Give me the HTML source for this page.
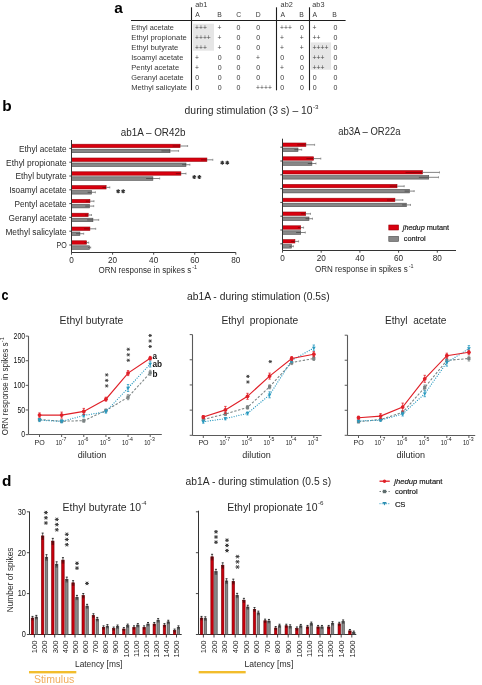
<!DOCTYPE html>
<html><head><meta charset="utf-8"><style>
html,body{margin:0;padding:0;background:#fff;}
svg{display:block;font-family:"Liberation Sans", sans-serif;will-change:transform;}
</style></head><body>
<svg width="482" height="685" viewBox="0 0 482 685">
<rect width="482" height="685" fill="#fff"/>
<text x="114.3" y="13.1" font-size="15.4" font-weight="bold" fill="#000">a</text>
<text x="2.2" y="111.2" font-size="15.4" font-weight="bold" fill="#000">b</text>
<text x="1.6" y="299.8" font-size="15.4" font-weight="bold" textLength="7.0" lengthAdjust="spacingAndGlyphs" fill="#000">c</text>
<text x="2.1" y="485.9" font-size="15.4" font-weight="bold" fill="#000">d</text>
<rect x="193.00" y="23.70" width="21.00" height="27.00" fill="#e6e6e6"/>
<rect x="310.80" y="42.40" width="20.30" height="27.40" fill="#e6e6e6"/>
<line x1="131" y1="20.5" x2="345.6" y2="20.5" stroke="#1e1e1e" stroke-width="1.1"/>
<line x1="191.5" y1="7.3" x2="191.5" y2="90.3" stroke="#1e1e1e" stroke-width="1.1"/>
<line x1="276.5" y1="7.3" x2="276.5" y2="90.3" stroke="#1e1e1e" stroke-width="1.1"/>
<line x1="309.5" y1="7.3" x2="309.5" y2="90.3" stroke="#1e1e1e" stroke-width="1.1"/>
<text x="195.2" y="6.7" font-size="7.0" textLength="12.2" lengthAdjust="spacingAndGlyphs" fill="#383838">ab1</text>
<text x="280.6" y="6.7" font-size="7.0" textLength="12.2" lengthAdjust="spacingAndGlyphs" fill="#383838">ab2</text>
<text x="312.3" y="6.7" font-size="7.0" textLength="12.2" lengthAdjust="spacingAndGlyphs" fill="#383838">ab3</text>
<text x="195.3" y="17.1" font-size="6.8" fill="#383838">A</text>
<text x="217.3" y="17.1" font-size="6.8" fill="#383838">B</text>
<text x="236.3" y="17.1" font-size="6.8" fill="#383838">C</text>
<text x="255.8" y="17.1" font-size="6.8" fill="#383838">D</text>
<text x="280.6" y="17.1" font-size="6.8" fill="#383838">A</text>
<text x="299.3" y="17.1" font-size="6.8" fill="#383838">B</text>
<text x="312.6" y="17.1" font-size="6.8" fill="#383838">A</text>
<text x="332.3" y="17.1" font-size="6.8" fill="#383838">B</text>
<text x="131.3" y="29.5" font-size="7.3" textLength="42.6" lengthAdjust="spacingAndGlyphs" fill="#383838">Ethyl acetate</text>
<text x="195.0" y="29.8" font-size="7.0" textLength="11.850000000000001" lengthAdjust="spacingAndGlyphs" fill="#444">+++</text>
<text x="217.60000000000002" y="29.8" font-size="7.0" textLength="3.95" lengthAdjust="spacingAndGlyphs" fill="#444">+</text>
<text x="236.6" y="29.5" font-size="7.4" textLength="3.9" lengthAdjust="spacingAndGlyphs" fill="#383838">0</text>
<text x="256.3" y="29.5" font-size="7.4" textLength="3.9" lengthAdjust="spacingAndGlyphs" fill="#383838">0</text>
<text x="280.0" y="29.8" font-size="7.0" textLength="11.850000000000001" lengthAdjust="spacingAndGlyphs" fill="#444">+++</text>
<text x="300.0" y="29.5" font-size="7.4" textLength="3.9" lengthAdjust="spacingAndGlyphs" fill="#383838">0</text>
<text x="312.6" y="29.8" font-size="7.0" textLength="3.95" lengthAdjust="spacingAndGlyphs" fill="#444">+</text>
<text x="333.6" y="29.5" font-size="7.4" textLength="3.9" lengthAdjust="spacingAndGlyphs" fill="#383838">0</text>
<text x="131.3" y="39.5" font-size="7.3" textLength="55.5" lengthAdjust="spacingAndGlyphs" fill="#383838">Ethyl propionate</text>
<text x="195.0" y="39.8" font-size="7.0" textLength="15.8" lengthAdjust="spacingAndGlyphs" fill="#444">++++</text>
<text x="217.60000000000002" y="39.8" font-size="7.0" textLength="3.95" lengthAdjust="spacingAndGlyphs" fill="#444">+</text>
<text x="236.6" y="39.5" font-size="7.4" textLength="3.9" lengthAdjust="spacingAndGlyphs" fill="#383838">0</text>
<text x="256.3" y="39.5" font-size="7.4" textLength="3.9" lengthAdjust="spacingAndGlyphs" fill="#383838">0</text>
<text x="280.0" y="39.8" font-size="7.0" textLength="3.95" lengthAdjust="spacingAndGlyphs" fill="#444">+</text>
<text x="299.8" y="39.8" font-size="7.0" textLength="3.95" lengthAdjust="spacingAndGlyphs" fill="#444">+</text>
<text x="312.6" y="39.8" font-size="7.0" textLength="7.9" lengthAdjust="spacingAndGlyphs" fill="#444">++</text>
<text x="333.6" y="39.5" font-size="7.4" textLength="3.9" lengthAdjust="spacingAndGlyphs" fill="#383838">0</text>
<text x="131.3" y="49.5" font-size="7.3" textLength="47.1" lengthAdjust="spacingAndGlyphs" fill="#383838">Ethyl butyrate</text>
<text x="195.0" y="49.8" font-size="7.0" textLength="11.850000000000001" lengthAdjust="spacingAndGlyphs" fill="#444">+++</text>
<text x="217.60000000000002" y="49.8" font-size="7.0" textLength="3.95" lengthAdjust="spacingAndGlyphs" fill="#444">+</text>
<text x="236.6" y="49.5" font-size="7.4" textLength="3.9" lengthAdjust="spacingAndGlyphs" fill="#383838">0</text>
<text x="256.3" y="49.5" font-size="7.4" textLength="3.9" lengthAdjust="spacingAndGlyphs" fill="#383838">0</text>
<text x="280.0" y="49.8" font-size="7.0" textLength="3.95" lengthAdjust="spacingAndGlyphs" fill="#444">+</text>
<text x="299.8" y="49.8" font-size="7.0" textLength="3.95" lengthAdjust="spacingAndGlyphs" fill="#444">+</text>
<text x="312.6" y="49.8" font-size="7.0" textLength="15.8" lengthAdjust="spacingAndGlyphs" fill="#444">++++</text>
<text x="333.6" y="49.5" font-size="7.4" textLength="3.9" lengthAdjust="spacingAndGlyphs" fill="#383838">0</text>
<text x="131.3" y="59.5" font-size="7.3" textLength="52.0" lengthAdjust="spacingAndGlyphs" fill="#383838">Isoamyl acetate</text>
<text x="195.0" y="59.8" font-size="7.0" textLength="3.95" lengthAdjust="spacingAndGlyphs" fill="#444">+</text>
<text x="217.8" y="59.5" font-size="7.4" textLength="3.9" lengthAdjust="spacingAndGlyphs" fill="#383838">0</text>
<text x="236.6" y="59.5" font-size="7.4" textLength="3.9" lengthAdjust="spacingAndGlyphs" fill="#383838">0</text>
<text x="256.1" y="59.8" font-size="7.0" textLength="3.95" lengthAdjust="spacingAndGlyphs" fill="#444">+</text>
<text x="280.2" y="59.5" font-size="7.4" textLength="3.9" lengthAdjust="spacingAndGlyphs" fill="#383838">0</text>
<text x="300.0" y="59.5" font-size="7.4" textLength="3.9" lengthAdjust="spacingAndGlyphs" fill="#383838">0</text>
<text x="312.6" y="59.8" font-size="7.0" textLength="11.850000000000001" lengthAdjust="spacingAndGlyphs" fill="#444">+++</text>
<text x="333.6" y="59.5" font-size="7.4" textLength="3.9" lengthAdjust="spacingAndGlyphs" fill="#383838">0</text>
<text x="131.3" y="69.5" font-size="7.3" textLength="47.8" lengthAdjust="spacingAndGlyphs" fill="#383838">Pentyl acetate</text>
<text x="195.0" y="69.8" font-size="7.0" textLength="3.95" lengthAdjust="spacingAndGlyphs" fill="#444">+</text>
<text x="217.8" y="69.5" font-size="7.4" textLength="3.9" lengthAdjust="spacingAndGlyphs" fill="#383838">0</text>
<text x="236.6" y="69.5" font-size="7.4" textLength="3.9" lengthAdjust="spacingAndGlyphs" fill="#383838">0</text>
<text x="256.3" y="69.5" font-size="7.4" textLength="3.9" lengthAdjust="spacingAndGlyphs" fill="#383838">0</text>
<text x="280.0" y="69.8" font-size="7.0" textLength="3.95" lengthAdjust="spacingAndGlyphs" fill="#444">+</text>
<text x="300.0" y="69.5" font-size="7.4" textLength="3.9" lengthAdjust="spacingAndGlyphs" fill="#383838">0</text>
<text x="312.6" y="69.8" font-size="7.0" textLength="11.850000000000001" lengthAdjust="spacingAndGlyphs" fill="#444">+++</text>
<text x="333.6" y="69.5" font-size="7.4" textLength="3.9" lengthAdjust="spacingAndGlyphs" fill="#383838">0</text>
<text x="131.3" y="79.5" font-size="7.3" textLength="52.4" lengthAdjust="spacingAndGlyphs" fill="#383838">Geranyl acetate</text>
<text x="195.2" y="79.5" font-size="7.4" textLength="3.9" lengthAdjust="spacingAndGlyphs" fill="#383838">0</text>
<text x="217.8" y="79.5" font-size="7.4" textLength="3.9" lengthAdjust="spacingAndGlyphs" fill="#383838">0</text>
<text x="236.6" y="79.5" font-size="7.4" textLength="3.9" lengthAdjust="spacingAndGlyphs" fill="#383838">0</text>
<text x="256.3" y="79.5" font-size="7.4" textLength="3.9" lengthAdjust="spacingAndGlyphs" fill="#383838">0</text>
<text x="280.2" y="79.5" font-size="7.4" textLength="3.9" lengthAdjust="spacingAndGlyphs" fill="#383838">0</text>
<text x="300.0" y="79.5" font-size="7.4" textLength="3.9" lengthAdjust="spacingAndGlyphs" fill="#383838">0</text>
<text x="312.8" y="79.5" font-size="7.4" textLength="3.9" lengthAdjust="spacingAndGlyphs" fill="#383838">0</text>
<text x="333.6" y="79.5" font-size="7.4" textLength="3.9" lengthAdjust="spacingAndGlyphs" fill="#383838">0</text>
<text x="131.3" y="89.5" font-size="7.3" textLength="55.7" lengthAdjust="spacingAndGlyphs" fill="#383838">Methyl salicylate</text>
<text x="195.2" y="89.5" font-size="7.4" textLength="3.9" lengthAdjust="spacingAndGlyphs" fill="#383838">0</text>
<text x="217.8" y="89.5" font-size="7.4" textLength="3.9" lengthAdjust="spacingAndGlyphs" fill="#383838">0</text>
<text x="236.6" y="89.5" font-size="7.4" textLength="3.9" lengthAdjust="spacingAndGlyphs" fill="#383838">0</text>
<text x="256.1" y="89.8" font-size="7.0" textLength="15.8" lengthAdjust="spacingAndGlyphs" fill="#444">++++</text>
<text x="280.2" y="89.5" font-size="7.4" textLength="3.9" lengthAdjust="spacingAndGlyphs" fill="#383838">0</text>
<text x="300.0" y="89.5" font-size="7.4" textLength="3.9" lengthAdjust="spacingAndGlyphs" fill="#383838">0</text>
<text x="312.8" y="89.5" font-size="7.4" textLength="3.9" lengthAdjust="spacingAndGlyphs" fill="#383838">0</text>
<text x="333.6" y="89.5" font-size="7.4" textLength="3.9" lengthAdjust="spacingAndGlyphs" fill="#383838">0</text>
<text x="184.6" y="113.9" font-size="10.5" textLength="128.0" lengthAdjust="spacingAndGlyphs" fill="#2a2a2a">during stimulation (3 s) – 10</text>
<text x="312.9" y="109.0" font-size="5.6" textLength="5.6" lengthAdjust="spacingAndGlyphs" fill="#2a2a2a">-3</text>
<rect x="71.50" y="144.20" width="108.60" height="3.40" fill="#d9000f" stroke="#9a0008" stroke-width="0.6"/>
<rect x="71.50" y="149.20" width="98.50" height="3.50" fill="#878787" stroke="#4a4a4a" stroke-width="0.6"/>
<line x1="172.6" y1="146.0" x2="180.1" y2="146.0" stroke="#300" stroke-width="1.0" opacity="0.45"/>
<line x1="180.1" y1="146.0" x2="187.6" y2="146.0" stroke="#777" stroke-width="0.9"/>
<line x1="187.6" y1="145.0" x2="187.6" y2="147.0" stroke="#777" stroke-width="0.7"/>
<line x1="161.4" y1="150.9" x2="170.0" y2="150.9" stroke="#111" stroke-width="1.0" opacity="0.45"/>
<line x1="170.0" y1="150.9" x2="178.6" y2="150.9" stroke="#777" stroke-width="0.9"/>
<line x1="178.6" y1="149.9" x2="178.6" y2="151.9" stroke="#777" stroke-width="0.7"/>
<line x1="69.3" y1="148.4" x2="71.5" y2="148.4" stroke="#333" stroke-width="0.9"/>
<rect x="71.50" y="158.00" width="135.40" height="3.40" fill="#d9000f" stroke="#9a0008" stroke-width="0.6"/>
<rect x="71.50" y="163.00" width="114.50" height="3.50" fill="#878787" stroke="#4a4a4a" stroke-width="0.6"/>
<line x1="201.0" y1="159.8" x2="206.9" y2="159.8" stroke="#300" stroke-width="1.0" opacity="0.45"/>
<line x1="206.9" y1="159.8" x2="212.8" y2="159.8" stroke="#777" stroke-width="0.9"/>
<line x1="212.8" y1="158.8" x2="212.8" y2="160.8" stroke="#777" stroke-width="0.7"/>
<line x1="182.1" y1="164.70000000000002" x2="186.0" y2="164.70000000000002" stroke="#111" stroke-width="1.0" opacity="0.45"/>
<line x1="186.0" y1="164.70000000000002" x2="189.9" y2="164.70000000000002" stroke="#777" stroke-width="0.9"/>
<line x1="189.9" y1="163.70000000000002" x2="189.9" y2="165.70000000000002" stroke="#777" stroke-width="0.7"/>
<line x1="69.3" y1="162.20000000000002" x2="71.5" y2="162.20000000000002" stroke="#333" stroke-width="0.9"/>
<rect x="71.50" y="171.80" width="109.40" height="3.40" fill="#d9000f" stroke="#9a0008" stroke-width="0.6"/>
<rect x="71.50" y="176.80" width="81.40" height="3.50" fill="#878787" stroke="#4a4a4a" stroke-width="0.6"/>
<line x1="175.8" y1="173.6" x2="180.9" y2="173.6" stroke="#300" stroke-width="1.0" opacity="0.45"/>
<line x1="180.9" y1="173.6" x2="186.0" y2="173.6" stroke="#777" stroke-width="0.9"/>
<line x1="186.0" y1="172.6" x2="186.0" y2="174.6" stroke="#777" stroke-width="0.7"/>
<line x1="146.10000000000002" y1="178.5" x2="152.9" y2="178.5" stroke="#111" stroke-width="1.0" opacity="0.45"/>
<line x1="152.9" y1="178.5" x2="159.7" y2="178.5" stroke="#777" stroke-width="0.9"/>
<line x1="159.7" y1="177.5" x2="159.7" y2="179.5" stroke="#777" stroke-width="0.7"/>
<line x1="69.3" y1="176.0" x2="71.5" y2="176.0" stroke="#333" stroke-width="0.9"/>
<rect x="71.50" y="185.60" width="34.60" height="3.40" fill="#d9000f" stroke="#9a0008" stroke-width="0.6"/>
<rect x="71.50" y="190.60" width="20.00" height="3.50" fill="#878787" stroke="#4a4a4a" stroke-width="0.6"/>
<line x1="102.39999999999999" y1="187.4" x2="106.1" y2="187.4" stroke="#300" stroke-width="1.0" opacity="0.45"/>
<line x1="106.1" y1="187.4" x2="109.8" y2="187.4" stroke="#777" stroke-width="0.9"/>
<line x1="109.8" y1="186.4" x2="109.8" y2="188.4" stroke="#777" stroke-width="0.7"/>
<line x1="87.6" y1="192.3" x2="91.5" y2="192.3" stroke="#111" stroke-width="1.0" opacity="0.45"/>
<line x1="91.5" y1="192.3" x2="95.4" y2="192.3" stroke="#777" stroke-width="0.9"/>
<line x1="95.4" y1="191.3" x2="95.4" y2="193.3" stroke="#777" stroke-width="0.7"/>
<line x1="69.3" y1="189.8" x2="71.5" y2="189.8" stroke="#333" stroke-width="0.9"/>
<rect x="71.50" y="199.40" width="18.40" height="3.40" fill="#d9000f" stroke="#9a0008" stroke-width="0.6"/>
<rect x="71.50" y="204.40" width="18.00" height="3.50" fill="#878787" stroke="#4a4a4a" stroke-width="0.6"/>
<line x1="85.80000000000001" y1="201.20000000000002" x2="89.9" y2="201.20000000000002" stroke="#300" stroke-width="1.0" opacity="0.45"/>
<line x1="89.9" y1="201.20000000000002" x2="94.0" y2="201.20000000000002" stroke="#777" stroke-width="0.9"/>
<line x1="94.0" y1="200.20000000000002" x2="94.0" y2="202.20000000000002" stroke="#777" stroke-width="0.7"/>
<line x1="85.3" y1="206.10000000000002" x2="89.5" y2="206.10000000000002" stroke="#111" stroke-width="1.0" opacity="0.45"/>
<line x1="89.5" y1="206.10000000000002" x2="93.7" y2="206.10000000000002" stroke="#777" stroke-width="0.9"/>
<line x1="93.7" y1="205.10000000000002" x2="93.7" y2="207.10000000000002" stroke="#777" stroke-width="0.7"/>
<line x1="69.3" y1="203.60000000000002" x2="71.5" y2="203.60000000000002" stroke="#333" stroke-width="0.9"/>
<rect x="71.50" y="213.20" width="16.70" height="3.40" fill="#d9000f" stroke="#9a0008" stroke-width="0.6"/>
<rect x="71.50" y="218.20" width="21.40" height="3.50" fill="#878787" stroke="#4a4a4a" stroke-width="0.6"/>
<line x1="84.9" y1="215.0" x2="88.2" y2="215.0" stroke="#300" stroke-width="1.0" opacity="0.45"/>
<line x1="88.2" y1="215.0" x2="91.5" y2="215.0" stroke="#777" stroke-width="0.9"/>
<line x1="91.5" y1="214.0" x2="91.5" y2="216.0" stroke="#777" stroke-width="0.7"/>
<line x1="87.10000000000001" y1="219.9" x2="92.9" y2="219.9" stroke="#111" stroke-width="1.0" opacity="0.45"/>
<line x1="92.9" y1="219.9" x2="98.7" y2="219.9" stroke="#777" stroke-width="0.9"/>
<line x1="98.7" y1="218.9" x2="98.7" y2="220.9" stroke="#777" stroke-width="0.7"/>
<line x1="69.3" y1="217.4" x2="71.5" y2="217.4" stroke="#333" stroke-width="0.9"/>
<rect x="71.50" y="227.00" width="18.40" height="3.40" fill="#d9000f" stroke="#9a0008" stroke-width="0.6"/>
<rect x="71.50" y="232.00" width="8.40" height="3.50" fill="#878787" stroke="#4a4a4a" stroke-width="0.6"/>
<line x1="84.10000000000001" y1="228.8" x2="89.9" y2="228.8" stroke="#300" stroke-width="1.0" opacity="0.45"/>
<line x1="89.9" y1="228.8" x2="95.7" y2="228.8" stroke="#777" stroke-width="0.9"/>
<line x1="95.7" y1="227.8" x2="95.7" y2="229.8" stroke="#777" stroke-width="0.7"/>
<line x1="76.10000000000001" y1="233.70000000000002" x2="79.9" y2="233.70000000000002" stroke="#111" stroke-width="1.0" opacity="0.45"/>
<line x1="79.9" y1="233.70000000000002" x2="83.7" y2="233.70000000000002" stroke="#777" stroke-width="0.9"/>
<line x1="83.7" y1="232.70000000000002" x2="83.7" y2="234.70000000000002" stroke="#777" stroke-width="0.7"/>
<line x1="69.3" y1="231.20000000000002" x2="71.5" y2="231.20000000000002" stroke="#333" stroke-width="0.9"/>
<rect x="71.50" y="240.80" width="15.10" height="3.40" fill="#d9000f" stroke="#9a0008" stroke-width="0.6"/>
<rect x="71.50" y="245.80" width="18.00" height="3.50" fill="#878787" stroke="#4a4a4a" stroke-width="0.6"/>
<line x1="84.49999999999999" y1="242.6" x2="86.6" y2="242.6" stroke="#300" stroke-width="1.0" opacity="0.45"/>
<line x1="86.6" y1="242.6" x2="88.7" y2="242.6" stroke="#777" stroke-width="0.9"/>
<line x1="88.7" y1="241.6" x2="88.7" y2="243.6" stroke="#777" stroke-width="0.7"/>
<line x1="88.3" y1="247.5" x2="89.5" y2="247.5" stroke="#111" stroke-width="1.0" opacity="0.45"/>
<line x1="89.5" y1="247.5" x2="90.7" y2="247.5" stroke="#777" stroke-width="0.9"/>
<line x1="90.7" y1="246.5" x2="90.7" y2="248.5" stroke="#777" stroke-width="0.7"/>
<line x1="69.3" y1="245.0" x2="71.5" y2="245.0" stroke="#333" stroke-width="0.9"/>
<line x1="71.5" y1="140" x2="71.5" y2="252.5" stroke="#333" stroke-width="1"/>
<line x1="71.5" y1="252.5" x2="235.8" y2="252.5" stroke="#333" stroke-width="1"/>
<line x1="71.5" y1="252.5" x2="71.5" y2="254.7" stroke="#333" stroke-width="0.9"/>
<text x="71.5" y="262.8" font-size="8.2" text-anchor="middle" fill="#2a2a2a">0</text>
<line x1="112.58" y1="252.5" x2="112.58" y2="254.7" stroke="#333" stroke-width="0.9"/>
<text x="112.58" y="262.8" font-size="8.2" text-anchor="middle" fill="#2a2a2a">20</text>
<line x1="153.66" y1="252.5" x2="153.66" y2="254.7" stroke="#333" stroke-width="0.9"/>
<text x="153.66" y="262.8" font-size="8.2" text-anchor="middle" fill="#2a2a2a">40</text>
<line x1="194.74" y1="252.5" x2="194.74" y2="254.7" stroke="#333" stroke-width="0.9"/>
<text x="194.74" y="262.8" font-size="8.2" text-anchor="middle" fill="#2a2a2a">60</text>
<line x1="235.82" y1="252.5" x2="235.82" y2="254.7" stroke="#333" stroke-width="0.9"/>
<text x="235.82" y="262.8" font-size="8.2" text-anchor="middle" fill="#2a2a2a">80</text>
<text x="120.7" y="135.6" font-size="10.5" textLength="64.8" lengthAdjust="spacingAndGlyphs" fill="#2a2a2a">ab1A – OR42b</text>
<text x="66.7" y="151.8" font-size="8.4" text-anchor="end" textLength="47.7" lengthAdjust="spacingAndGlyphs" fill="#2a2a2a">Ethyl acetate</text>
<text x="66.7" y="165.60000000000002" font-size="8.4" text-anchor="end" textLength="60.6" lengthAdjust="spacingAndGlyphs" fill="#2a2a2a">Ethyl propionate</text>
<text x="66.7" y="179.4" font-size="8.4" text-anchor="end" textLength="51.3" lengthAdjust="spacingAndGlyphs" fill="#2a2a2a">Ethyl butyrate</text>
<text x="66.7" y="193.20000000000002" font-size="8.4" text-anchor="end" textLength="57.5" lengthAdjust="spacingAndGlyphs" fill="#2a2a2a">Isoamyl acetate</text>
<text x="66.7" y="207.0" font-size="8.4" text-anchor="end" textLength="52.3" lengthAdjust="spacingAndGlyphs" fill="#2a2a2a">Pentyl acetate</text>
<text x="66.7" y="220.8" font-size="8.4" text-anchor="end" textLength="58.2" lengthAdjust="spacingAndGlyphs" fill="#2a2a2a">Geranyl acetate</text>
<text x="66.7" y="234.60000000000002" font-size="8.4" text-anchor="end" textLength="61.3" lengthAdjust="spacingAndGlyphs" fill="#2a2a2a">Methyl salicylate</text>
<text x="66.7" y="248.40000000000003" font-size="8.4" text-anchor="end" textLength="10.3" lengthAdjust="spacingAndGlyphs" fill="#2a2a2a">PO</text>
<text x="98.4" y="272.9" font-size="8.5" textLength="92.8" lengthAdjust="spacingAndGlyphs" fill="#2a2a2a">ORN response in spikes s</text>
<text x="192.2" y="269.0" font-size="5.2" textLength="4.8" lengthAdjust="spacingAndGlyphs" fill="#2a2a2a">-1</text>
<path d="M222.30,160.80L222.30,164.80M220.57,161.80L224.03,163.80M220.57,163.80L224.03,161.80" stroke="#333" stroke-width="1.2" fill="none"/>
<path d="M227.30,160.80L227.30,164.80M225.57,161.80L229.03,163.80M225.57,163.80L229.03,161.80" stroke="#333" stroke-width="1.2" fill="none"/>
<path d="M194.30,175.00L194.30,179.00M192.57,176.00L196.03,178.00M192.57,178.00L196.03,176.00" stroke="#333" stroke-width="1.2" fill="none"/>
<path d="M199.40,175.00L199.40,179.00M197.67,176.00L201.13,178.00M197.67,178.00L201.13,176.00" stroke="#333" stroke-width="1.2" fill="none"/>
<path d="M118.20,189.30L118.20,193.30M116.47,190.30L119.93,192.30M116.47,192.30L119.93,190.30" stroke="#333" stroke-width="1.2" fill="none"/>
<path d="M123.20,189.30L123.20,193.30M121.47,190.30L124.93,192.30M121.47,192.30L124.93,190.30" stroke="#333" stroke-width="1.2" fill="none"/>
<rect x="282.50" y="143.00" width="23.40" height="3.40" fill="#d9000f" stroke="#9a0008" stroke-width="0.6"/>
<rect x="282.50" y="148.00" width="15.50" height="3.50" fill="#878787" stroke="#4a4a4a" stroke-width="0.6"/>
<line x1="297.19999999999993" y1="144.79999999999998" x2="305.9" y2="144.79999999999998" stroke="#300" stroke-width="1.0" opacity="0.45"/>
<line x1="305.9" y1="144.79999999999998" x2="314.6" y2="144.79999999999998" stroke="#777" stroke-width="0.9"/>
<line x1="314.6" y1="143.79999999999998" x2="314.6" y2="145.79999999999998" stroke="#777" stroke-width="0.7"/>
<line x1="294.3" y1="149.7" x2="298.0" y2="149.7" stroke="#111" stroke-width="1.0" opacity="0.45"/>
<line x1="298.0" y1="149.7" x2="301.7" y2="149.7" stroke="#777" stroke-width="0.9"/>
<line x1="301.7" y1="148.7" x2="301.7" y2="150.7" stroke="#777" stroke-width="0.7"/>
<line x1="280.3" y1="147.2" x2="282.5" y2="147.2" stroke="#333" stroke-width="0.9"/>
<rect x="282.50" y="156.80" width="31.10" height="3.40" fill="#d9000f" stroke="#9a0008" stroke-width="0.6"/>
<rect x="282.50" y="161.80" width="29.40" height="3.50" fill="#878787" stroke="#4a4a4a" stroke-width="0.6"/>
<line x1="306.40000000000003" y1="158.6" x2="313.6" y2="158.6" stroke="#300" stroke-width="1.0" opacity="0.45"/>
<line x1="313.6" y1="158.6" x2="320.8" y2="158.6" stroke="#777" stroke-width="0.9"/>
<line x1="320.8" y1="157.6" x2="320.8" y2="159.6" stroke="#777" stroke-width="0.7"/>
<line x1="307.79999999999995" y1="163.5" x2="311.9" y2="163.5" stroke="#111" stroke-width="1.0" opacity="0.45"/>
<line x1="311.9" y1="163.5" x2="316.0" y2="163.5" stroke="#777" stroke-width="0.9"/>
<line x1="316.0" y1="162.5" x2="316.0" y2="164.5" stroke="#777" stroke-width="0.7"/>
<line x1="280.3" y1="161.0" x2="282.5" y2="161.0" stroke="#333" stroke-width="0.9"/>
<rect x="282.50" y="170.60" width="140.00" height="3.40" fill="#d9000f" stroke="#9a0008" stroke-width="0.6"/>
<rect x="282.50" y="175.60" width="146.20" height="3.50" fill="#878787" stroke="#4a4a4a" stroke-width="0.6"/>
<line x1="405.5" y1="172.39999999999998" x2="422.5" y2="172.39999999999998" stroke="#300" stroke-width="1.0" opacity="0.45"/>
<line x1="422.5" y1="172.39999999999998" x2="439.5" y2="172.39999999999998" stroke="#777" stroke-width="0.9"/>
<line x1="439.5" y1="171.39999999999998" x2="439.5" y2="173.39999999999998" stroke="#777" stroke-width="0.7"/>
<line x1="418.9" y1="177.29999999999998" x2="428.7" y2="177.29999999999998" stroke="#111" stroke-width="1.0" opacity="0.45"/>
<line x1="428.7" y1="177.29999999999998" x2="438.5" y2="177.29999999999998" stroke="#777" stroke-width="0.9"/>
<line x1="438.5" y1="176.29999999999998" x2="438.5" y2="178.29999999999998" stroke="#777" stroke-width="0.7"/>
<line x1="280.3" y1="174.79999999999998" x2="282.5" y2="174.79999999999998" stroke="#333" stroke-width="0.9"/>
<rect x="282.50" y="184.40" width="114.50" height="3.40" fill="#d9000f" stroke="#9a0008" stroke-width="0.6"/>
<rect x="282.50" y="189.40" width="126.90" height="3.50" fill="#878787" stroke="#4a4a4a" stroke-width="0.6"/>
<line x1="389.8" y1="186.2" x2="397.0" y2="186.2" stroke="#300" stroke-width="1.0" opacity="0.45"/>
<line x1="397.0" y1="186.2" x2="404.2" y2="186.2" stroke="#777" stroke-width="0.9"/>
<line x1="404.2" y1="185.2" x2="404.2" y2="187.2" stroke="#777" stroke-width="0.7"/>
<line x1="404.59999999999997" y1="191.1" x2="409.4" y2="191.1" stroke="#111" stroke-width="1.0" opacity="0.45"/>
<line x1="409.4" y1="191.1" x2="414.2" y2="191.1" stroke="#777" stroke-width="0.9"/>
<line x1="414.2" y1="190.1" x2="414.2" y2="192.1" stroke="#777" stroke-width="0.7"/>
<line x1="280.3" y1="188.6" x2="282.5" y2="188.6" stroke="#333" stroke-width="0.9"/>
<rect x="282.50" y="198.20" width="112.40" height="3.40" fill="#d9000f" stroke="#9a0008" stroke-width="0.6"/>
<rect x="282.50" y="203.20" width="123.80" height="3.50" fill="#878787" stroke="#4a4a4a" stroke-width="0.6"/>
<line x1="386.99999999999994" y1="199.99999999999997" x2="394.9" y2="199.99999999999997" stroke="#300" stroke-width="1.0" opacity="0.45"/>
<line x1="394.9" y1="199.99999999999997" x2="402.8" y2="199.99999999999997" stroke="#777" stroke-width="0.9"/>
<line x1="402.8" y1="198.99999999999997" x2="402.8" y2="200.99999999999997" stroke="#777" stroke-width="0.7"/>
<line x1="402.1" y1="204.89999999999998" x2="406.3" y2="204.89999999999998" stroke="#111" stroke-width="1.0" opacity="0.45"/>
<line x1="406.3" y1="204.89999999999998" x2="410.5" y2="204.89999999999998" stroke="#777" stroke-width="0.9"/>
<line x1="410.5" y1="203.89999999999998" x2="410.5" y2="205.89999999999998" stroke="#777" stroke-width="0.7"/>
<line x1="280.3" y1="202.39999999999998" x2="282.5" y2="202.39999999999998" stroke="#333" stroke-width="0.9"/>
<rect x="282.50" y="212.00" width="23.20" height="3.40" fill="#d9000f" stroke="#9a0008" stroke-width="0.6"/>
<rect x="282.50" y="217.00" width="26.50" height="3.50" fill="#878787" stroke="#4a4a4a" stroke-width="0.6"/>
<line x1="300.9" y1="213.79999999999998" x2="305.7" y2="213.79999999999998" stroke="#300" stroke-width="1.0" opacity="0.45"/>
<line x1="305.7" y1="213.79999999999998" x2="310.5" y2="213.79999999999998" stroke="#777" stroke-width="0.9"/>
<line x1="310.5" y1="212.79999999999998" x2="310.5" y2="214.79999999999998" stroke="#777" stroke-width="0.7"/>
<line x1="305.5" y1="218.7" x2="309.0" y2="218.7" stroke="#111" stroke-width="1.0" opacity="0.45"/>
<line x1="309.0" y1="218.7" x2="312.5" y2="218.7" stroke="#777" stroke-width="0.9"/>
<line x1="312.5" y1="217.7" x2="312.5" y2="219.7" stroke="#777" stroke-width="0.7"/>
<line x1="280.3" y1="216.2" x2="282.5" y2="216.2" stroke="#333" stroke-width="0.9"/>
<rect x="282.50" y="225.80" width="18.20" height="3.40" fill="#d9000f" stroke="#9a0008" stroke-width="0.6"/>
<rect x="282.50" y="230.80" width="18.20" height="3.50" fill="#878787" stroke="#4a4a4a" stroke-width="0.6"/>
<line x1="297.79999999999995" y1="227.6" x2="300.7" y2="227.6" stroke="#300" stroke-width="1.0" opacity="0.45"/>
<line x1="300.7" y1="227.6" x2="303.6" y2="227.6" stroke="#777" stroke-width="0.9"/>
<line x1="303.6" y1="226.6" x2="303.6" y2="228.6" stroke="#777" stroke-width="0.7"/>
<line x1="296.09999999999997" y1="232.5" x2="300.7" y2="232.5" stroke="#111" stroke-width="1.0" opacity="0.45"/>
<line x1="300.7" y1="232.5" x2="305.3" y2="232.5" stroke="#777" stroke-width="0.9"/>
<line x1="305.3" y1="231.5" x2="305.3" y2="233.5" stroke="#777" stroke-width="0.7"/>
<line x1="280.3" y1="230.0" x2="282.5" y2="230.0" stroke="#333" stroke-width="0.9"/>
<rect x="282.50" y="239.60" width="12.40" height="3.40" fill="#d9000f" stroke="#9a0008" stroke-width="0.6"/>
<rect x="282.50" y="244.60" width="8.90" height="3.50" fill="#878787" stroke="#4a4a4a" stroke-width="0.6"/>
<line x1="291.19999999999993" y1="241.4" x2="294.9" y2="241.4" stroke="#300" stroke-width="1.0" opacity="0.45"/>
<line x1="294.9" y1="241.4" x2="298.6" y2="241.4" stroke="#777" stroke-width="0.9"/>
<line x1="298.6" y1="240.4" x2="298.6" y2="242.4" stroke="#777" stroke-width="0.7"/>
<line x1="289.4" y1="246.3" x2="291.4" y2="246.3" stroke="#111" stroke-width="1.0" opacity="0.45"/>
<line x1="291.4" y1="246.3" x2="293.4" y2="246.3" stroke="#777" stroke-width="0.9"/>
<line x1="293.4" y1="245.3" x2="293.4" y2="247.3" stroke="#777" stroke-width="0.7"/>
<line x1="280.3" y1="243.8" x2="282.5" y2="243.8" stroke="#333" stroke-width="0.9"/>
<line x1="282.5" y1="138.7" x2="282.5" y2="250.5" stroke="#333" stroke-width="1"/>
<line x1="282.5" y1="250.5" x2="456.0" y2="250.5" stroke="#333" stroke-width="1"/>
<line x1="282.5" y1="250.5" x2="282.5" y2="252.7" stroke="#333" stroke-width="0.9"/>
<text x="282.5" y="260.5" font-size="8.2" text-anchor="middle" fill="#2a2a2a">0</text>
<line x1="321.2" y1="250.5" x2="321.2" y2="252.7" stroke="#333" stroke-width="0.9"/>
<text x="321.2" y="260.5" font-size="8.2" text-anchor="middle" fill="#2a2a2a">20</text>
<line x1="359.9" y1="250.5" x2="359.9" y2="252.7" stroke="#333" stroke-width="0.9"/>
<text x="359.9" y="260.5" font-size="8.2" text-anchor="middle" fill="#2a2a2a">40</text>
<line x1="398.6" y1="250.5" x2="398.6" y2="252.7" stroke="#333" stroke-width="0.9"/>
<text x="398.6" y="260.5" font-size="8.2" text-anchor="middle" fill="#2a2a2a">60</text>
<line x1="437.3" y1="250.5" x2="437.3" y2="252.7" stroke="#333" stroke-width="0.9"/>
<text x="437.3" y="260.5" font-size="8.2" text-anchor="middle" fill="#2a2a2a">80</text>
<text x="338.3" y="135.4" font-size="10.5" textLength="62.2" lengthAdjust="spacingAndGlyphs" fill="#2a2a2a">ab3A – OR22a</text>
<text x="315.0" y="271.5" font-size="8.5" textLength="92.8" lengthAdjust="spacingAndGlyphs" fill="#2a2a2a">ORN response in spikes s</text>
<text x="408.8" y="267.6" font-size="5.2" textLength="4.8" lengthAdjust="spacingAndGlyphs" fill="#2a2a2a">-1</text>
<rect x="388.80" y="225.00" width="9.80" height="5.00" fill="#d9000f" stroke="#9a0008" stroke-width="0.6"/>
<rect x="388.80" y="236.40" width="9.80" height="5.00" fill="#878787" stroke="#4a4a4a" stroke-width="0.6"/>
<text x="402.8" y="230.2" font-size="7.3" fill="#111" stroke="#111" stroke-width="0.15"><tspan font-style="italic">jhedup</tspan> mutant</text>
<text x="403.8" y="241.2" font-size="7.3" fill="#111" stroke="#111" stroke-width="0.15">control</text>
<text x="187" y="299.6" font-size="11" textLength="142.7" lengthAdjust="spacingAndGlyphs" fill="#2a2a2a">ab1A - during stimulation (0.5s)</text>
<line x1="28.5" y1="336.1" x2="28.5" y2="434.5" stroke="#5a5a5a" stroke-width="1.1"/>
<line x1="28.5" y1="434.5" x2="161.8" y2="434.5" stroke="#5a5a5a" stroke-width="1.2"/>
<line x1="25.7" y1="434.6" x2="28.5" y2="434.6" stroke="#5a5a5a" stroke-width="1.0"/>
<text x="25.1" y="437.3" font-size="8.4" text-anchor="end" textLength="3.85" lengthAdjust="spacingAndGlyphs" fill="#111">0</text>
<line x1="25.7" y1="409.975" x2="28.5" y2="409.975" stroke="#5a5a5a" stroke-width="1.0"/>
<text x="25.1" y="412.675" font-size="8.4" text-anchor="end" textLength="7.7" lengthAdjust="spacingAndGlyphs" fill="#111">50</text>
<line x1="25.7" y1="385.35" x2="28.5" y2="385.35" stroke="#5a5a5a" stroke-width="1.0"/>
<text x="25.1" y="388.05" font-size="8.4" text-anchor="end" textLength="11.55" lengthAdjust="spacingAndGlyphs" fill="#111">100</text>
<line x1="25.7" y1="360.725" x2="28.5" y2="360.725" stroke="#5a5a5a" stroke-width="1.0"/>
<text x="25.1" y="363.425" font-size="8.4" text-anchor="end" textLength="11.55" lengthAdjust="spacingAndGlyphs" fill="#111">150</text>
<line x1="25.7" y1="336.1" x2="28.5" y2="336.1" stroke="#5a5a5a" stroke-width="1.0"/>
<text x="25.1" y="338.8" font-size="8.4" text-anchor="end" textLength="11.55" lengthAdjust="spacingAndGlyphs" fill="#111">200</text>
<line x1="39.5" y1="434.5" x2="39.5" y2="437.0" stroke="#5a5a5a" stroke-width="1.0"/>
<text x="34.6" y="445.0" font-size="7.6" textLength="10.2" lengthAdjust="spacingAndGlyphs" fill="#1a1a1a">PO</text>
<line x1="61.64" y1="434.5" x2="61.64" y2="437.0" stroke="#5a5a5a" stroke-width="1.0"/>
<text x="55.64" y="445.2" font-size="7.4" textLength="6.3" lengthAdjust="spacingAndGlyphs" fill="#1a1a1a">10</text>
<text x="61.74" y="441.3" font-size="5.4" textLength="4.6" lengthAdjust="spacingAndGlyphs" fill="#1a1a1a">-7</text>
<line x1="83.78" y1="434.5" x2="83.78" y2="437.0" stroke="#5a5a5a" stroke-width="1.0"/>
<text x="77.78" y="445.2" font-size="7.4" textLength="6.3" lengthAdjust="spacingAndGlyphs" fill="#1a1a1a">10</text>
<text x="83.88" y="441.3" font-size="5.4" textLength="4.6" lengthAdjust="spacingAndGlyphs" fill="#1a1a1a">-6</text>
<line x1="105.92" y1="434.5" x2="105.92" y2="437.0" stroke="#5a5a5a" stroke-width="1.0"/>
<text x="99.92" y="445.2" font-size="7.4" textLength="6.3" lengthAdjust="spacingAndGlyphs" fill="#1a1a1a">10</text>
<text x="106.02" y="441.3" font-size="5.4" textLength="4.6" lengthAdjust="spacingAndGlyphs" fill="#1a1a1a">-5</text>
<line x1="128.06" y1="434.5" x2="128.06" y2="437.0" stroke="#5a5a5a" stroke-width="1.0"/>
<text x="122.06" y="445.2" font-size="7.4" textLength="6.3" lengthAdjust="spacingAndGlyphs" fill="#1a1a1a">10</text>
<text x="128.16" y="441.3" font-size="5.4" textLength="4.6" lengthAdjust="spacingAndGlyphs" fill="#1a1a1a">-4</text>
<line x1="150.2" y1="434.5" x2="150.2" y2="437.0" stroke="#5a5a5a" stroke-width="1.0"/>
<text x="144.2" y="445.2" font-size="7.4" textLength="6.3" lengthAdjust="spacingAndGlyphs" fill="#1a1a1a">10</text>
<text x="150.29999999999998" y="441.3" font-size="5.4" textLength="4.6" lengthAdjust="spacingAndGlyphs" fill="#1a1a1a">-3</text>
<text x="59.6" y="323.8" font-size="10.5" textLength="63.8" lengthAdjust="spacingAndGlyphs" fill="#2a2a2a">Ethyl butyrate</text>
<text x="77.7" y="458.2" font-size="8.4" textLength="28.6" lengthAdjust="spacingAndGlyphs" fill="#2a2a2a">dilution</text>
<polyline points="39.50,419.60 61.64,421.20 83.78,420.70 105.92,410.50 128.06,397.20 150.20,372.80" fill="none" stroke="#7a8282" stroke-width="1.05" stroke-dasharray="2.4,1.6"/>
<line x1="39.5" y1="418.40000000000003" x2="39.5" y2="420.8" stroke="#7a8282" stroke-width="0.8"/>
<line x1="38.3" y1="418.40000000000003" x2="40.7" y2="418.40000000000003" stroke="#7a8282" stroke-width="0.8"/>
<line x1="38.3" y1="420.8" x2="40.7" y2="420.8" stroke="#7a8282" stroke-width="0.8"/>
<rect x="37.90" y="418.00" width="3.20" height="3.20" fill="#7a8282"/>
<line x1="61.64" y1="420.0" x2="61.64" y2="422.4" stroke="#7a8282" stroke-width="0.8"/>
<line x1="60.44" y1="420.0" x2="62.84" y2="420.0" stroke="#7a8282" stroke-width="0.8"/>
<line x1="60.44" y1="422.4" x2="62.84" y2="422.4" stroke="#7a8282" stroke-width="0.8"/>
<rect x="60.04" y="419.60" width="3.20" height="3.20" fill="#7a8282"/>
<line x1="83.78" y1="419.2" x2="83.78" y2="422.2" stroke="#7a8282" stroke-width="0.8"/>
<line x1="82.58" y1="419.2" x2="84.98" y2="419.2" stroke="#7a8282" stroke-width="0.8"/>
<line x1="82.58" y1="422.2" x2="84.98" y2="422.2" stroke="#7a8282" stroke-width="0.8"/>
<rect x="82.18" y="419.10" width="3.20" height="3.20" fill="#7a8282"/>
<line x1="105.92" y1="409.0" x2="105.92" y2="412.0" stroke="#7a8282" stroke-width="0.8"/>
<line x1="104.72" y1="409.0" x2="107.12" y2="409.0" stroke="#7a8282" stroke-width="0.8"/>
<line x1="104.72" y1="412.0" x2="107.12" y2="412.0" stroke="#7a8282" stroke-width="0.8"/>
<rect x="104.32" y="408.90" width="3.20" height="3.20" fill="#7a8282"/>
<line x1="128.06" y1="394.7" x2="128.06" y2="399.7" stroke="#7a8282" stroke-width="0.8"/>
<line x1="126.86" y1="394.7" x2="129.26" y2="394.7" stroke="#7a8282" stroke-width="0.8"/>
<line x1="126.86" y1="399.7" x2="129.26" y2="399.7" stroke="#7a8282" stroke-width="0.8"/>
<rect x="126.46" y="395.60" width="3.20" height="3.20" fill="#7a8282"/>
<line x1="150.2" y1="370.3" x2="150.2" y2="375.3" stroke="#7a8282" stroke-width="0.8"/>
<line x1="149.0" y1="370.3" x2="151.39999999999998" y2="370.3" stroke="#7a8282" stroke-width="0.8"/>
<line x1="149.0" y1="375.3" x2="151.39999999999998" y2="375.3" stroke="#7a8282" stroke-width="0.8"/>
<rect x="148.60" y="371.20" width="3.20" height="3.20" fill="#7a8282"/>
<polyline points="39.50,420.10 61.64,421.40 83.78,415.50 105.92,411.60 128.06,388.00 150.20,364.00" fill="none" stroke="#2a9ac0" stroke-width="1.25" stroke-dasharray="0.01,2.4" stroke-linecap="round"/>
<line x1="39.5" y1="418.6" x2="39.5" y2="421.6" stroke="#2a9ac0" stroke-width="0.8"/>
<line x1="38.3" y1="418.6" x2="40.7" y2="418.6" stroke="#2a9ac0" stroke-width="0.8"/>
<line x1="38.3" y1="421.6" x2="40.7" y2="421.6" stroke="#2a9ac0" stroke-width="0.8"/>
<path d="M37.60,418.80 L41.40,418.80 L39.50,422.00 Z" fill="#2a9ac0"/>
<line x1="61.64" y1="419.9" x2="61.64" y2="422.9" stroke="#2a9ac0" stroke-width="0.8"/>
<line x1="60.44" y1="419.9" x2="62.84" y2="419.9" stroke="#2a9ac0" stroke-width="0.8"/>
<line x1="60.44" y1="422.9" x2="62.84" y2="422.9" stroke="#2a9ac0" stroke-width="0.8"/>
<path d="M59.74,420.10 L63.54,420.10 L61.64,423.30 Z" fill="#2a9ac0"/>
<line x1="83.78" y1="414.0" x2="83.78" y2="417.0" stroke="#2a9ac0" stroke-width="0.8"/>
<line x1="82.58" y1="414.0" x2="84.98" y2="414.0" stroke="#2a9ac0" stroke-width="0.8"/>
<line x1="82.58" y1="417.0" x2="84.98" y2="417.0" stroke="#2a9ac0" stroke-width="0.8"/>
<path d="M81.88,414.20 L85.68,414.20 L83.78,417.40 Z" fill="#2a9ac0"/>
<line x1="105.92" y1="410.1" x2="105.92" y2="413.1" stroke="#2a9ac0" stroke-width="0.8"/>
<line x1="104.72" y1="410.1" x2="107.12" y2="410.1" stroke="#2a9ac0" stroke-width="0.8"/>
<line x1="104.72" y1="413.1" x2="107.12" y2="413.1" stroke="#2a9ac0" stroke-width="0.8"/>
<path d="M104.02,410.30 L107.82,410.30 L105.92,413.50 Z" fill="#2a9ac0"/>
<line x1="128.06" y1="384.5" x2="128.06" y2="391.5" stroke="#2a9ac0" stroke-width="0.8"/>
<line x1="126.86" y1="384.5" x2="129.26" y2="384.5" stroke="#2a9ac0" stroke-width="0.8"/>
<line x1="126.86" y1="391.5" x2="129.26" y2="391.5" stroke="#2a9ac0" stroke-width="0.8"/>
<path d="M126.16,386.70 L129.96,386.70 L128.06,389.90 Z" fill="#2a9ac0"/>
<line x1="150.2" y1="361.0" x2="150.2" y2="367.0" stroke="#2a9ac0" stroke-width="0.8"/>
<line x1="149.0" y1="361.0" x2="151.39999999999998" y2="361.0" stroke="#2a9ac0" stroke-width="0.8"/>
<line x1="149.0" y1="367.0" x2="151.39999999999998" y2="367.0" stroke="#2a9ac0" stroke-width="0.8"/>
<path d="M148.30,362.70 L152.10,362.70 L150.20,365.90 Z" fill="#2a9ac0"/>
<polyline points="39.50,415.10 61.64,415.10 83.78,411.40 105.92,399.20 128.06,373.10 150.20,358.20" fill="none" stroke="#e02028" stroke-width="1.15"/>
<line x1="39.5" y1="412.90000000000003" x2="39.5" y2="417.3" stroke="#e02028" stroke-width="0.8"/>
<line x1="38.3" y1="412.90000000000003" x2="40.7" y2="412.90000000000003" stroke="#e02028" stroke-width="0.8"/>
<line x1="38.3" y1="417.3" x2="40.7" y2="417.3" stroke="#e02028" stroke-width="0.8"/>
<circle cx="39.50" cy="415.10" r="1.9" fill="#e02028"/>
<line x1="61.64" y1="412.1" x2="61.64" y2="418.1" stroke="#e02028" stroke-width="0.8"/>
<line x1="60.44" y1="412.1" x2="62.84" y2="412.1" stroke="#e02028" stroke-width="0.8"/>
<line x1="60.44" y1="418.1" x2="62.84" y2="418.1" stroke="#e02028" stroke-width="0.8"/>
<circle cx="61.64" cy="415.10" r="1.9" fill="#e02028"/>
<line x1="83.78" y1="408.4" x2="83.78" y2="414.4" stroke="#e02028" stroke-width="0.8"/>
<line x1="82.58" y1="408.4" x2="84.98" y2="408.4" stroke="#e02028" stroke-width="0.8"/>
<line x1="82.58" y1="414.4" x2="84.98" y2="414.4" stroke="#e02028" stroke-width="0.8"/>
<circle cx="83.78" cy="411.40" r="1.9" fill="#e02028"/>
<line x1="105.92" y1="397.2" x2="105.92" y2="401.2" stroke="#e02028" stroke-width="0.8"/>
<line x1="104.72" y1="397.2" x2="107.12" y2="397.2" stroke="#e02028" stroke-width="0.8"/>
<line x1="104.72" y1="401.2" x2="107.12" y2="401.2" stroke="#e02028" stroke-width="0.8"/>
<circle cx="105.92" cy="399.20" r="1.9" fill="#e02028"/>
<line x1="128.06" y1="370.6" x2="128.06" y2="375.6" stroke="#e02028" stroke-width="0.8"/>
<line x1="126.86" y1="370.6" x2="129.26" y2="370.6" stroke="#e02028" stroke-width="0.8"/>
<line x1="126.86" y1="375.6" x2="129.26" y2="375.6" stroke="#e02028" stroke-width="0.8"/>
<circle cx="128.06" cy="373.10" r="1.9" fill="#e02028"/>
<line x1="150.2" y1="356.4" x2="150.2" y2="360.0" stroke="#e02028" stroke-width="0.8"/>
<line x1="149.0" y1="356.4" x2="151.39999999999998" y2="356.4" stroke="#e02028" stroke-width="0.8"/>
<line x1="149.0" y1="360.0" x2="151.39999999999998" y2="360.0" stroke="#e02028" stroke-width="0.8"/>
<circle cx="150.20" cy="358.20" r="1.9" fill="#e02028"/>
<path d="M104.95,374.90L108.45,374.90M105.83,373.38L107.58,376.42M105.83,376.42L107.58,373.38" stroke="#3c3c3c" stroke-width="0.9" fill="none"/>
<path d="M104.95,380.40L108.45,380.40M105.83,378.88L107.58,381.92M105.83,381.92L107.58,378.88" stroke="#3c3c3c" stroke-width="0.9" fill="none"/>
<path d="M104.95,385.90L108.45,385.90M105.83,384.38L107.58,387.42M105.83,387.42L107.58,384.38" stroke="#3c3c3c" stroke-width="0.9" fill="none"/>
<path d="M126.55,349.30L130.05,349.30M127.43,347.78L129.18,350.82M127.43,350.82L129.18,347.78" stroke="#3c3c3c" stroke-width="0.9" fill="none"/>
<path d="M126.55,354.80L130.05,354.80M127.43,353.28L129.18,356.32M127.43,356.32L129.18,353.28" stroke="#3c3c3c" stroke-width="0.9" fill="none"/>
<path d="M126.55,360.30L130.05,360.30M127.43,358.78L129.18,361.82M127.43,361.82L129.18,358.78" stroke="#3c3c3c" stroke-width="0.9" fill="none"/>
<path d="M148.45,335.50L151.95,335.50M149.32,333.98L151.07,337.02M149.32,337.02L151.07,333.98" stroke="#3c3c3c" stroke-width="0.9" fill="none"/>
<path d="M148.45,341.00L151.95,341.00M149.32,339.48L151.07,342.52M149.32,342.52L151.07,339.48" stroke="#3c3c3c" stroke-width="0.9" fill="none"/>
<path d="M148.45,346.50L151.95,346.50M149.32,344.98L151.07,348.02M149.32,348.02L151.07,344.98" stroke="#3c3c3c" stroke-width="0.9" fill="none"/>
<text x="152.4" y="358.6" font-size="8.2" font-weight="bold" fill="#111">a</text>
<text x="152.4" y="366.6" font-size="8.2" font-weight="bold" textLength="9.6" lengthAdjust="spacingAndGlyphs" fill="#111">ab</text>
<text x="152.6" y="376.8" font-size="8.2" font-weight="bold" fill="#111">b</text>
<line x1="192.5" y1="334.6" x2="192.5" y2="435.5" stroke="#5a5a5a" stroke-width="1.1"/>
<line x1="192.5" y1="435.5" x2="321.6" y2="435.5" stroke="#5a5a5a" stroke-width="1.2"/>
<line x1="189.7" y1="435.3" x2="192.5" y2="435.3" stroke="#5a5a5a" stroke-width="1.0"/>
<line x1="189.7" y1="410.125" x2="192.5" y2="410.125" stroke="#5a5a5a" stroke-width="1.0"/>
<line x1="189.7" y1="384.95000000000005" x2="192.5" y2="384.95000000000005" stroke="#5a5a5a" stroke-width="1.0"/>
<line x1="189.7" y1="359.77500000000003" x2="192.5" y2="359.77500000000003" stroke="#5a5a5a" stroke-width="1.0"/>
<line x1="189.7" y1="334.6" x2="192.5" y2="334.6" stroke="#5a5a5a" stroke-width="1.0"/>
<line x1="203.3" y1="435.5" x2="203.3" y2="438.0" stroke="#5a5a5a" stroke-width="1.0"/>
<text x="198.4" y="445.0" font-size="7.6" textLength="10.2" lengthAdjust="spacingAndGlyphs" fill="#1a1a1a">PO</text>
<line x1="225.4" y1="435.5" x2="225.4" y2="438.0" stroke="#5a5a5a" stroke-width="1.0"/>
<text x="219.4" y="445.2" font-size="7.4" textLength="6.3" lengthAdjust="spacingAndGlyphs" fill="#1a1a1a">10</text>
<text x="225.5" y="441.3" font-size="5.4" textLength="4.6" lengthAdjust="spacingAndGlyphs" fill="#1a1a1a">-7</text>
<line x1="247.5" y1="435.5" x2="247.5" y2="438.0" stroke="#5a5a5a" stroke-width="1.0"/>
<text x="241.5" y="445.2" font-size="7.4" textLength="6.3" lengthAdjust="spacingAndGlyphs" fill="#1a1a1a">10</text>
<text x="247.6" y="441.3" font-size="5.4" textLength="4.6" lengthAdjust="spacingAndGlyphs" fill="#1a1a1a">-6</text>
<line x1="269.6" y1="435.5" x2="269.6" y2="438.0" stroke="#5a5a5a" stroke-width="1.0"/>
<text x="263.6" y="445.2" font-size="7.4" textLength="6.3" lengthAdjust="spacingAndGlyphs" fill="#1a1a1a">10</text>
<text x="269.70000000000005" y="441.3" font-size="5.4" textLength="4.6" lengthAdjust="spacingAndGlyphs" fill="#1a1a1a">-5</text>
<line x1="291.70000000000005" y1="435.5" x2="291.70000000000005" y2="438.0" stroke="#5a5a5a" stroke-width="1.0"/>
<text x="285.70000000000005" y="445.2" font-size="7.4" textLength="6.3" lengthAdjust="spacingAndGlyphs" fill="#1a1a1a">10</text>
<text x="291.80000000000007" y="441.3" font-size="5.4" textLength="4.6" lengthAdjust="spacingAndGlyphs" fill="#1a1a1a">-4</text>
<line x1="313.8" y1="435.5" x2="313.8" y2="438.0" stroke="#5a5a5a" stroke-width="1.0"/>
<text x="307.8" y="445.2" font-size="7.4" textLength="6.3" lengthAdjust="spacingAndGlyphs" fill="#1a1a1a">10</text>
<text x="313.90000000000003" y="441.3" font-size="5.4" textLength="4.6" lengthAdjust="spacingAndGlyphs" fill="#1a1a1a">-3</text>
<text x="221.4" y="323.8" font-size="10.5" textLength="76.9" lengthAdjust="spacingAndGlyphs" fill="#2a2a2a">Ethyl  propionate</text>
<text x="242.3" y="458.2" font-size="8.4" textLength="28.6" lengthAdjust="spacingAndGlyphs" fill="#2a2a2a">dilution</text>
<polyline points="203.30,419.50 225.40,414.00 247.50,407.40 269.60,386.80 291.70,362.60 313.80,358.50" fill="none" stroke="#7a8282" stroke-width="1.05" stroke-dasharray="2.4,1.6"/>
<line x1="203.3" y1="418.3" x2="203.3" y2="420.7" stroke="#7a8282" stroke-width="0.8"/>
<line x1="202.10000000000002" y1="418.3" x2="204.5" y2="418.3" stroke="#7a8282" stroke-width="0.8"/>
<line x1="202.10000000000002" y1="420.7" x2="204.5" y2="420.7" stroke="#7a8282" stroke-width="0.8"/>
<rect x="201.70" y="417.90" width="3.20" height="3.20" fill="#7a8282"/>
<line x1="225.4" y1="412.5" x2="225.4" y2="415.5" stroke="#7a8282" stroke-width="0.8"/>
<line x1="224.20000000000002" y1="412.5" x2="226.6" y2="412.5" stroke="#7a8282" stroke-width="0.8"/>
<line x1="224.20000000000002" y1="415.5" x2="226.6" y2="415.5" stroke="#7a8282" stroke-width="0.8"/>
<rect x="223.80" y="412.40" width="3.20" height="3.20" fill="#7a8282"/>
<line x1="247.5" y1="405.59999999999997" x2="247.5" y2="409.2" stroke="#7a8282" stroke-width="0.8"/>
<line x1="246.3" y1="405.59999999999997" x2="248.7" y2="405.59999999999997" stroke="#7a8282" stroke-width="0.8"/>
<line x1="246.3" y1="409.2" x2="248.7" y2="409.2" stroke="#7a8282" stroke-width="0.8"/>
<rect x="245.90" y="405.80" width="3.20" height="3.20" fill="#7a8282"/>
<line x1="269.6" y1="384.8" x2="269.6" y2="388.8" stroke="#7a8282" stroke-width="0.8"/>
<line x1="268.40000000000003" y1="384.8" x2="270.8" y2="384.8" stroke="#7a8282" stroke-width="0.8"/>
<line x1="268.40000000000003" y1="388.8" x2="270.8" y2="388.8" stroke="#7a8282" stroke-width="0.8"/>
<rect x="268.00" y="385.20" width="3.20" height="3.20" fill="#7a8282"/>
<line x1="291.70000000000005" y1="360.6" x2="291.70000000000005" y2="364.6" stroke="#7a8282" stroke-width="0.8"/>
<line x1="290.50000000000006" y1="360.6" x2="292.90000000000003" y2="360.6" stroke="#7a8282" stroke-width="0.8"/>
<line x1="290.50000000000006" y1="364.6" x2="292.90000000000003" y2="364.6" stroke="#7a8282" stroke-width="0.8"/>
<rect x="290.10" y="361.00" width="3.20" height="3.20" fill="#7a8282"/>
<line x1="313.8" y1="356.5" x2="313.8" y2="360.5" stroke="#7a8282" stroke-width="0.8"/>
<line x1="312.6" y1="356.5" x2="315.0" y2="356.5" stroke="#7a8282" stroke-width="0.8"/>
<line x1="312.6" y1="360.5" x2="315.0" y2="360.5" stroke="#7a8282" stroke-width="0.8"/>
<rect x="312.20" y="356.90" width="3.20" height="3.20" fill="#7a8282"/>
<polyline points="203.30,421.70 225.40,418.60 247.50,413.40 269.60,394.80 291.70,360.40 313.80,348.00" fill="none" stroke="#2a9ac0" stroke-width="1.25" stroke-dasharray="0.01,2.4" stroke-linecap="round"/>
<line x1="203.3" y1="420.2" x2="203.3" y2="423.2" stroke="#2a9ac0" stroke-width="0.8"/>
<line x1="202.10000000000002" y1="420.2" x2="204.5" y2="420.2" stroke="#2a9ac0" stroke-width="0.8"/>
<line x1="202.10000000000002" y1="423.2" x2="204.5" y2="423.2" stroke="#2a9ac0" stroke-width="0.8"/>
<path d="M201.40,420.40 L205.20,420.40 L203.30,423.60 Z" fill="#2a9ac0"/>
<line x1="225.4" y1="417.40000000000003" x2="225.4" y2="419.8" stroke="#2a9ac0" stroke-width="0.8"/>
<line x1="224.20000000000002" y1="417.40000000000003" x2="226.6" y2="417.40000000000003" stroke="#2a9ac0" stroke-width="0.8"/>
<line x1="224.20000000000002" y1="419.8" x2="226.6" y2="419.8" stroke="#2a9ac0" stroke-width="0.8"/>
<path d="M223.50,417.30 L227.30,417.30 L225.40,420.50 Z" fill="#2a9ac0"/>
<line x1="247.5" y1="411.9" x2="247.5" y2="414.9" stroke="#2a9ac0" stroke-width="0.8"/>
<line x1="246.3" y1="411.9" x2="248.7" y2="411.9" stroke="#2a9ac0" stroke-width="0.8"/>
<line x1="246.3" y1="414.9" x2="248.7" y2="414.9" stroke="#2a9ac0" stroke-width="0.8"/>
<path d="M245.60,412.10 L249.40,412.10 L247.50,415.30 Z" fill="#2a9ac0"/>
<line x1="269.6" y1="391.8" x2="269.6" y2="397.8" stroke="#2a9ac0" stroke-width="0.8"/>
<line x1="268.40000000000003" y1="391.8" x2="270.8" y2="391.8" stroke="#2a9ac0" stroke-width="0.8"/>
<line x1="268.40000000000003" y1="397.8" x2="270.8" y2="397.8" stroke="#2a9ac0" stroke-width="0.8"/>
<path d="M267.70,393.50 L271.50,393.50 L269.60,396.70 Z" fill="#2a9ac0"/>
<line x1="291.70000000000005" y1="358.4" x2="291.70000000000005" y2="362.4" stroke="#2a9ac0" stroke-width="0.8"/>
<line x1="290.50000000000006" y1="358.4" x2="292.90000000000003" y2="358.4" stroke="#2a9ac0" stroke-width="0.8"/>
<line x1="290.50000000000006" y1="362.4" x2="292.90000000000003" y2="362.4" stroke="#2a9ac0" stroke-width="0.8"/>
<path d="M289.80,359.10 L293.60,359.10 L291.70,362.30 Z" fill="#2a9ac0"/>
<line x1="313.8" y1="345.0" x2="313.8" y2="351.0" stroke="#2a9ac0" stroke-width="0.8"/>
<line x1="312.6" y1="345.0" x2="315.0" y2="345.0" stroke="#2a9ac0" stroke-width="0.8"/>
<line x1="312.6" y1="351.0" x2="315.0" y2="351.0" stroke="#2a9ac0" stroke-width="0.8"/>
<path d="M311.90,346.70 L315.70,346.70 L313.80,349.90 Z" fill="#2a9ac0"/>
<polyline points="203.30,417.00 225.40,409.90 247.50,396.30 269.60,376.10 291.70,358.50 313.80,354.20" fill="none" stroke="#e02028" stroke-width="1.15"/>
<line x1="203.3" y1="415.5" x2="203.3" y2="418.5" stroke="#e02028" stroke-width="0.8"/>
<line x1="202.10000000000002" y1="415.5" x2="204.5" y2="415.5" stroke="#e02028" stroke-width="0.8"/>
<line x1="202.10000000000002" y1="418.5" x2="204.5" y2="418.5" stroke="#e02028" stroke-width="0.8"/>
<circle cx="203.30" cy="417.00" r="1.9" fill="#e02028"/>
<line x1="225.4" y1="406.4" x2="225.4" y2="413.4" stroke="#e02028" stroke-width="0.8"/>
<line x1="224.20000000000002" y1="406.4" x2="226.6" y2="406.4" stroke="#e02028" stroke-width="0.8"/>
<line x1="224.20000000000002" y1="413.4" x2="226.6" y2="413.4" stroke="#e02028" stroke-width="0.8"/>
<circle cx="225.40" cy="409.90" r="1.9" fill="#e02028"/>
<line x1="247.5" y1="393.3" x2="247.5" y2="399.3" stroke="#e02028" stroke-width="0.8"/>
<line x1="246.3" y1="393.3" x2="248.7" y2="393.3" stroke="#e02028" stroke-width="0.8"/>
<line x1="246.3" y1="399.3" x2="248.7" y2="399.3" stroke="#e02028" stroke-width="0.8"/>
<circle cx="247.50" cy="396.30" r="1.9" fill="#e02028"/>
<line x1="269.6" y1="373.1" x2="269.6" y2="379.1" stroke="#e02028" stroke-width="0.8"/>
<line x1="268.40000000000003" y1="373.1" x2="270.8" y2="373.1" stroke="#e02028" stroke-width="0.8"/>
<line x1="268.40000000000003" y1="379.1" x2="270.8" y2="379.1" stroke="#e02028" stroke-width="0.8"/>
<circle cx="269.60" cy="376.10" r="1.9" fill="#e02028"/>
<line x1="291.70000000000005" y1="356.5" x2="291.70000000000005" y2="360.5" stroke="#e02028" stroke-width="0.8"/>
<line x1="290.50000000000006" y1="356.5" x2="292.90000000000003" y2="356.5" stroke="#e02028" stroke-width="0.8"/>
<line x1="290.50000000000006" y1="360.5" x2="292.90000000000003" y2="360.5" stroke="#e02028" stroke-width="0.8"/>
<circle cx="291.70" cy="358.50" r="1.9" fill="#e02028"/>
<line x1="313.8" y1="351.7" x2="313.8" y2="356.7" stroke="#e02028" stroke-width="0.8"/>
<line x1="312.6" y1="351.7" x2="315.0" y2="351.7" stroke="#e02028" stroke-width="0.8"/>
<line x1="312.6" y1="356.7" x2="315.0" y2="356.7" stroke="#e02028" stroke-width="0.8"/>
<circle cx="313.80" cy="354.20" r="1.9" fill="#e02028"/>
<path d="M246.15,376.40L249.65,376.40M247.03,374.88L248.78,377.92M247.03,377.92L248.78,374.88" stroke="#3c3c3c" stroke-width="0.9" fill="none"/>
<path d="M246.15,382.00L249.65,382.00M247.03,380.48L248.78,383.52M247.03,383.52L248.78,380.48" stroke="#3c3c3c" stroke-width="0.9" fill="none"/>
<path d="M268.55,361.60L272.05,361.60M269.43,360.08L271.18,363.12M269.43,363.12L271.18,360.08" stroke="#3c3c3c" stroke-width="0.9" fill="none"/>
<line x1="347.5" y1="335.2" x2="347.5" y2="435.5" stroke="#5a5a5a" stroke-width="1.1"/>
<line x1="347.5" y1="435.5" x2="475.2" y2="435.5" stroke="#5a5a5a" stroke-width="1.2"/>
<line x1="344.7" y1="435.3" x2="347.5" y2="435.3" stroke="#5a5a5a" stroke-width="1.0"/>
<line x1="344.7" y1="410.27500000000003" x2="347.5" y2="410.27500000000003" stroke="#5a5a5a" stroke-width="1.0"/>
<line x1="344.7" y1="385.25" x2="347.5" y2="385.25" stroke="#5a5a5a" stroke-width="1.0"/>
<line x1="344.7" y1="360.225" x2="347.5" y2="360.225" stroke="#5a5a5a" stroke-width="1.0"/>
<line x1="344.7" y1="335.20000000000005" x2="347.5" y2="335.20000000000005" stroke="#5a5a5a" stroke-width="1.0"/>
<line x1="358.5" y1="435.5" x2="358.5" y2="438.0" stroke="#5a5a5a" stroke-width="1.0"/>
<text x="353.6" y="445.0" font-size="7.6" textLength="10.2" lengthAdjust="spacingAndGlyphs" fill="#1a1a1a">PO</text>
<line x1="380.58" y1="435.5" x2="380.58" y2="438.0" stroke="#5a5a5a" stroke-width="1.0"/>
<text x="374.58" y="445.2" font-size="7.4" textLength="6.3" lengthAdjust="spacingAndGlyphs" fill="#1a1a1a">10</text>
<text x="380.68" y="441.3" font-size="5.4" textLength="4.6" lengthAdjust="spacingAndGlyphs" fill="#1a1a1a">-7</text>
<line x1="402.65999999999997" y1="435.5" x2="402.65999999999997" y2="438.0" stroke="#5a5a5a" stroke-width="1.0"/>
<text x="396.65999999999997" y="445.2" font-size="7.4" textLength="6.3" lengthAdjust="spacingAndGlyphs" fill="#1a1a1a">10</text>
<text x="402.76" y="441.3" font-size="5.4" textLength="4.6" lengthAdjust="spacingAndGlyphs" fill="#1a1a1a">-6</text>
<line x1="424.74" y1="435.5" x2="424.74" y2="438.0" stroke="#5a5a5a" stroke-width="1.0"/>
<text x="418.74" y="445.2" font-size="7.4" textLength="6.3" lengthAdjust="spacingAndGlyphs" fill="#1a1a1a">10</text>
<text x="424.84000000000003" y="441.3" font-size="5.4" textLength="4.6" lengthAdjust="spacingAndGlyphs" fill="#1a1a1a">-5</text>
<line x1="446.82" y1="435.5" x2="446.82" y2="438.0" stroke="#5a5a5a" stroke-width="1.0"/>
<text x="440.82" y="445.2" font-size="7.4" textLength="6.3" lengthAdjust="spacingAndGlyphs" fill="#1a1a1a">10</text>
<text x="446.92" y="441.3" font-size="5.4" textLength="4.6" lengthAdjust="spacingAndGlyphs" fill="#1a1a1a">-4</text>
<line x1="468.9" y1="435.5" x2="468.9" y2="438.0" stroke="#5a5a5a" stroke-width="1.0"/>
<text x="462.9" y="445.2" font-size="7.4" textLength="6.3" lengthAdjust="spacingAndGlyphs" fill="#1a1a1a">10</text>
<text x="469.0" y="441.3" font-size="5.4" textLength="4.6" lengthAdjust="spacingAndGlyphs" fill="#1a1a1a">-3</text>
<text x="384.9" y="323.8" font-size="10.5" textLength="61.6" lengthAdjust="spacingAndGlyphs" fill="#2a2a2a">Ethyl  acetate</text>
<text x="396.5" y="458.2" font-size="8.4" textLength="28.6" lengthAdjust="spacingAndGlyphs" fill="#2a2a2a">dilution</text>
<polyline points="358.50,421.70 380.58,419.50 402.66,412.40 424.74,387.50 446.82,360.40 468.90,358.50" fill="none" stroke="#7a8282" stroke-width="1.05" stroke-dasharray="2.4,1.6"/>
<line x1="358.5" y1="420.5" x2="358.5" y2="422.9" stroke="#7a8282" stroke-width="0.8"/>
<line x1="357.3" y1="420.5" x2="359.7" y2="420.5" stroke="#7a8282" stroke-width="0.8"/>
<line x1="357.3" y1="422.9" x2="359.7" y2="422.9" stroke="#7a8282" stroke-width="0.8"/>
<rect x="356.90" y="420.10" width="3.20" height="3.20" fill="#7a8282"/>
<line x1="380.58" y1="418.3" x2="380.58" y2="420.7" stroke="#7a8282" stroke-width="0.8"/>
<line x1="379.38" y1="418.3" x2="381.78" y2="418.3" stroke="#7a8282" stroke-width="0.8"/>
<line x1="379.38" y1="420.7" x2="381.78" y2="420.7" stroke="#7a8282" stroke-width="0.8"/>
<rect x="378.98" y="417.90" width="3.20" height="3.20" fill="#7a8282"/>
<line x1="402.65999999999997" y1="410.9" x2="402.65999999999997" y2="413.9" stroke="#7a8282" stroke-width="0.8"/>
<line x1="401.46" y1="410.9" x2="403.85999999999996" y2="410.9" stroke="#7a8282" stroke-width="0.8"/>
<line x1="401.46" y1="413.9" x2="403.85999999999996" y2="413.9" stroke="#7a8282" stroke-width="0.8"/>
<rect x="401.06" y="410.80" width="3.20" height="3.20" fill="#7a8282"/>
<line x1="424.74" y1="385.0" x2="424.74" y2="390.0" stroke="#7a8282" stroke-width="0.8"/>
<line x1="423.54" y1="385.0" x2="425.94" y2="385.0" stroke="#7a8282" stroke-width="0.8"/>
<line x1="423.54" y1="390.0" x2="425.94" y2="390.0" stroke="#7a8282" stroke-width="0.8"/>
<rect x="423.14" y="385.90" width="3.20" height="3.20" fill="#7a8282"/>
<line x1="446.82" y1="357.9" x2="446.82" y2="362.9" stroke="#7a8282" stroke-width="0.8"/>
<line x1="445.62" y1="357.9" x2="448.02" y2="357.9" stroke="#7a8282" stroke-width="0.8"/>
<line x1="445.62" y1="362.9" x2="448.02" y2="362.9" stroke="#7a8282" stroke-width="0.8"/>
<rect x="445.22" y="358.80" width="3.20" height="3.20" fill="#7a8282"/>
<line x1="468.9" y1="356.0" x2="468.9" y2="361.0" stroke="#7a8282" stroke-width="0.8"/>
<line x1="467.7" y1="356.0" x2="470.09999999999997" y2="356.0" stroke="#7a8282" stroke-width="0.8"/>
<line x1="467.7" y1="361.0" x2="470.09999999999997" y2="361.0" stroke="#7a8282" stroke-width="0.8"/>
<rect x="467.30" y="356.90" width="3.20" height="3.20" fill="#7a8282"/>
<polyline points="358.50,421.00 380.58,420.20 402.66,414.00 424.74,393.70 446.82,362.60 468.90,348.60" fill="none" stroke="#2a9ac0" stroke-width="1.25" stroke-dasharray="0.01,2.4" stroke-linecap="round"/>
<line x1="358.5" y1="419.8" x2="358.5" y2="422.2" stroke="#2a9ac0" stroke-width="0.8"/>
<line x1="357.3" y1="419.8" x2="359.7" y2="419.8" stroke="#2a9ac0" stroke-width="0.8"/>
<line x1="357.3" y1="422.2" x2="359.7" y2="422.2" stroke="#2a9ac0" stroke-width="0.8"/>
<path d="M356.60,419.70 L360.40,419.70 L358.50,422.90 Z" fill="#2a9ac0"/>
<line x1="380.58" y1="419.0" x2="380.58" y2="421.4" stroke="#2a9ac0" stroke-width="0.8"/>
<line x1="379.38" y1="419.0" x2="381.78" y2="419.0" stroke="#2a9ac0" stroke-width="0.8"/>
<line x1="379.38" y1="421.4" x2="381.78" y2="421.4" stroke="#2a9ac0" stroke-width="0.8"/>
<path d="M378.68,418.90 L382.48,418.90 L380.58,422.10 Z" fill="#2a9ac0"/>
<line x1="402.65999999999997" y1="412.0" x2="402.65999999999997" y2="416.0" stroke="#2a9ac0" stroke-width="0.8"/>
<line x1="401.46" y1="412.0" x2="403.85999999999996" y2="412.0" stroke="#2a9ac0" stroke-width="0.8"/>
<line x1="401.46" y1="416.0" x2="403.85999999999996" y2="416.0" stroke="#2a9ac0" stroke-width="0.8"/>
<path d="M400.76,412.70 L404.56,412.70 L402.66,415.90 Z" fill="#2a9ac0"/>
<line x1="424.74" y1="390.7" x2="424.74" y2="396.7" stroke="#2a9ac0" stroke-width="0.8"/>
<line x1="423.54" y1="390.7" x2="425.94" y2="390.7" stroke="#2a9ac0" stroke-width="0.8"/>
<line x1="423.54" y1="396.7" x2="425.94" y2="396.7" stroke="#2a9ac0" stroke-width="0.8"/>
<path d="M422.84,392.40 L426.64,392.40 L424.74,395.60 Z" fill="#2a9ac0"/>
<line x1="446.82" y1="359.1" x2="446.82" y2="366.1" stroke="#2a9ac0" stroke-width="0.8"/>
<line x1="445.62" y1="359.1" x2="448.02" y2="359.1" stroke="#2a9ac0" stroke-width="0.8"/>
<line x1="445.62" y1="366.1" x2="448.02" y2="366.1" stroke="#2a9ac0" stroke-width="0.8"/>
<path d="M444.92,361.30 L448.72,361.30 L446.82,364.50 Z" fill="#2a9ac0"/>
<line x1="468.9" y1="345.6" x2="468.9" y2="351.6" stroke="#2a9ac0" stroke-width="0.8"/>
<line x1="467.7" y1="345.6" x2="470.09999999999997" y2="345.6" stroke="#2a9ac0" stroke-width="0.8"/>
<line x1="467.7" y1="351.6" x2="470.09999999999997" y2="351.6" stroke="#2a9ac0" stroke-width="0.8"/>
<path d="M467.00,347.30 L470.80,347.30 L468.90,350.50 Z" fill="#2a9ac0"/>
<polyline points="358.50,417.70 380.58,416.10 402.66,407.10 424.74,378.80 446.82,355.70 468.90,352.30" fill="none" stroke="#e02028" stroke-width="1.15"/>
<line x1="358.5" y1="416.2" x2="358.5" y2="419.2" stroke="#e02028" stroke-width="0.8"/>
<line x1="357.3" y1="416.2" x2="359.7" y2="416.2" stroke="#e02028" stroke-width="0.8"/>
<line x1="357.3" y1="419.2" x2="359.7" y2="419.2" stroke="#e02028" stroke-width="0.8"/>
<circle cx="358.50" cy="417.70" r="1.9" fill="#e02028"/>
<line x1="380.58" y1="413.6" x2="380.58" y2="418.6" stroke="#e02028" stroke-width="0.8"/>
<line x1="379.38" y1="413.6" x2="381.78" y2="413.6" stroke="#e02028" stroke-width="0.8"/>
<line x1="379.38" y1="418.6" x2="381.78" y2="418.6" stroke="#e02028" stroke-width="0.8"/>
<circle cx="380.58" cy="416.10" r="1.9" fill="#e02028"/>
<line x1="402.65999999999997" y1="403.1" x2="402.65999999999997" y2="411.1" stroke="#e02028" stroke-width="0.8"/>
<line x1="401.46" y1="403.1" x2="403.85999999999996" y2="403.1" stroke="#e02028" stroke-width="0.8"/>
<line x1="401.46" y1="411.1" x2="403.85999999999996" y2="411.1" stroke="#e02028" stroke-width="0.8"/>
<circle cx="402.66" cy="407.10" r="1.9" fill="#e02028"/>
<line x1="424.74" y1="375.3" x2="424.74" y2="382.3" stroke="#e02028" stroke-width="0.8"/>
<line x1="423.54" y1="375.3" x2="425.94" y2="375.3" stroke="#e02028" stroke-width="0.8"/>
<line x1="423.54" y1="382.3" x2="425.94" y2="382.3" stroke="#e02028" stroke-width="0.8"/>
<circle cx="424.74" cy="378.80" r="1.9" fill="#e02028"/>
<line x1="446.82" y1="353.2" x2="446.82" y2="358.2" stroke="#e02028" stroke-width="0.8"/>
<line x1="445.62" y1="353.2" x2="448.02" y2="353.2" stroke="#e02028" stroke-width="0.8"/>
<line x1="445.62" y1="358.2" x2="448.02" y2="358.2" stroke="#e02028" stroke-width="0.8"/>
<circle cx="446.82" cy="355.70" r="1.9" fill="#e02028"/>
<line x1="468.9" y1="350.3" x2="468.9" y2="354.3" stroke="#e02028" stroke-width="0.8"/>
<line x1="467.7" y1="350.3" x2="470.09999999999997" y2="350.3" stroke="#e02028" stroke-width="0.8"/>
<line x1="467.7" y1="354.3" x2="470.09999999999997" y2="354.3" stroke="#e02028" stroke-width="0.8"/>
<circle cx="468.90" cy="352.30" r="1.9" fill="#e02028"/>
<text x="185.6" y="485.4" font-size="11" textLength="145.5" lengthAdjust="spacingAndGlyphs" fill="#2a2a2a">ab1A - during stimulation (0.5 s)</text>
<line x1="379.5" y1="481.2" x2="389.8" y2="481.2" stroke="#e02028" stroke-width="1.3"/>
<circle cx="384.5" cy="481.2" r="1.7" fill="#e02028"/>
<text x="394.3" y="483.6" font-size="7.6" fill="#111" stroke="#111" stroke-width="0.15"><tspan font-style="italic">jhedup</tspan> mutant</text>
<line x1="379.5" y1="491.5" x2="389.8" y2="491.5" stroke="#7a8282" stroke-width="1.0" stroke-dasharray="1.5,1.5"/>
<rect x="382.80" y="489.80" width="3.40" height="3.40" fill="#5f6d6d"/>
<text x="394.9" y="494.3" font-size="7.6" fill="#111" stroke="#111" stroke-width="0.15">control</text>
<line x1="379.5" y1="503.7" x2="389.8" y2="503.7" stroke="#2a9ac0" stroke-width="1.0" stroke-dasharray="1,1.2"/>
<path d="M382.3,502.0 L386.7,502.0 L384.5,505.6 Z" fill="#2a8db0"/>
<text x="394.9" y="506.5" font-size="7.6" fill="#111" stroke="#111" stroke-width="0.15">CS</text>
<line x1="29.5" y1="511.6" x2="29.5" y2="634.5" stroke="#333" stroke-width="1"/>
<line x1="29.5" y1="634.5" x2="181.7" y2="634.5" stroke="#333" stroke-width="1"/>
<line x1="26.9" y1="634.5" x2="29.5" y2="634.5" stroke="#333" stroke-width="0.9"/>
<text x="25.9" y="637.3" font-size="8.3" text-anchor="end" textLength="4.1" lengthAdjust="spacingAndGlyphs" fill="#111">0</text>
<line x1="26.9" y1="593.6" x2="29.5" y2="593.6" stroke="#333" stroke-width="0.9"/>
<text x="25.9" y="596.4" font-size="8.3" text-anchor="end" textLength="8.2" lengthAdjust="spacingAndGlyphs" fill="#111">10</text>
<line x1="26.9" y1="552.7" x2="29.5" y2="552.7" stroke="#333" stroke-width="0.9"/>
<text x="25.9" y="555.5" font-size="8.3" text-anchor="end" textLength="8.2" lengthAdjust="spacingAndGlyphs" fill="#111">20</text>
<line x1="26.9" y1="511.8" x2="29.5" y2="511.8" stroke="#333" stroke-width="0.9"/>
<text x="25.9" y="514.6" font-size="8.3" text-anchor="end" textLength="8.2" lengthAdjust="spacingAndGlyphs" fill="#111">30</text>
<line x1="34.4" y1="634.5" x2="34.4" y2="637.5" stroke="#333" stroke-width="0.9"/>
<rect x="31.25" y="618.00" width="2.50" height="16.50" fill="#c8000c" stroke="#7a0006" stroke-width="0.6"/>
<rect x="31.25" y="618.00" width="2.50" height="2.42" fill="#000" opacity="0.33"/>
<line x1="32.5" y1="616.407946210269" x2="32.5" y2="619.2736430317848" stroke="#1a1a1a" stroke-width="0.8" opacity="0.8"/>
<line x1="31.5" y1="616.407946210269" x2="33.5" y2="616.407946210269" stroke="#1a1a1a" stroke-width="0.9"/>
<rect x="35.10" y="617.00" width="2.50" height="17.50" fill="#878787" stroke="#444" stroke-width="0.6"/>
<rect x="35.10" y="617.00" width="2.50" height="2.44" fill="#000" opacity="0.33"/>
<line x1="36.349999999999994" y1="615.3932762836185" x2="36.349999999999994" y2="618.2853789731051" stroke="#1a1a1a" stroke-width="0.8" opacity="0.8"/>
<line x1="35.349999999999994" y1="615.3932762836185" x2="37.349999999999994" y2="615.3932762836185" stroke="#1a1a1a" stroke-width="0.9"/>
<text transform="translate(37.20,640.5) rotate(-90)" font-size="7.7" text-anchor="end" fill="#1a1a1a" font-family='"Liberation Sans", sans-serif'>100</text>
<line x1="44.55" y1="634.5" x2="44.55" y2="637.5" stroke="#333" stroke-width="0.9"/>
<rect x="41.40" y="535.90" width="2.50" height="98.60" fill="#c8000c" stroke="#7a0006" stroke-width="0.6"/>
<rect x="41.40" y="535.90" width="2.50" height="4.03" fill="#000" opacity="0.33"/>
<line x1="42.65" y1="533.1035452322739" x2="42.65" y2="538.1371638141809" stroke="#1a1a1a" stroke-width="0.8" opacity="0.8"/>
<line x1="41.65" y1="533.1035452322739" x2="43.65" y2="533.1035452322739" stroke="#1a1a1a" stroke-width="0.9"/>
<rect x="45.25" y="557.20" width="2.50" height="77.30" fill="#878787" stroke="#444" stroke-width="0.6"/>
<rect x="45.25" y="557.20" width="2.50" height="3.61" fill="#000" opacity="0.33"/>
<line x1="46.49999999999999" y1="554.7160146699267" x2="46.49999999999999" y2="559.1871882640587" stroke="#1a1a1a" stroke-width="0.8" opacity="0.8"/>
<line x1="45.49999999999999" y1="554.7160146699267" x2="47.49999999999999" y2="554.7160146699267" stroke="#1a1a1a" stroke-width="0.9"/>
<text transform="translate(47.35,640.5) rotate(-90)" font-size="7.7" text-anchor="end" fill="#1a1a1a" font-family='"Liberation Sans", sans-serif'>200</text>
<line x1="54.7" y1="634.5" x2="54.7" y2="637.5" stroke="#333" stroke-width="0.9"/>
<rect x="51.55" y="541.10" width="2.50" height="93.40" fill="#c8000c" stroke="#7a0006" stroke-width="0.6"/>
<rect x="51.55" y="541.10" width="2.50" height="3.93" fill="#000" opacity="0.33"/>
<line x1="52.800000000000004" y1="538.3798288508558" x2="52.800000000000004" y2="543.2761369193154" stroke="#1a1a1a" stroke-width="0.8" opacity="0.8"/>
<line x1="51.800000000000004" y1="538.3798288508558" x2="53.800000000000004" y2="538.3798288508558" stroke="#1a1a1a" stroke-width="0.9"/>
<rect x="55.40" y="564.20" width="2.50" height="70.30" fill="#878787" stroke="#444" stroke-width="0.6"/>
<rect x="55.40" y="564.20" width="2.50" height="3.48" fill="#000" opacity="0.33"/>
<line x1="56.65" y1="561.8187041564793" x2="56.65" y2="566.1050366748167" stroke="#1a1a1a" stroke-width="0.8" opacity="0.8"/>
<line x1="55.65" y1="561.8187041564793" x2="57.65" y2="561.8187041564793" stroke="#1a1a1a" stroke-width="0.9"/>
<text transform="translate(57.50,640.5) rotate(-90)" font-size="7.7" text-anchor="end" fill="#1a1a1a" font-family='"Liberation Sans", sans-serif'>300</text>
<line x1="64.85" y1="634.5" x2="64.85" y2="637.5" stroke="#333" stroke-width="0.9"/>
<rect x="61.70" y="560.10" width="2.50" height="74.40" fill="#c8000c" stroke="#7a0006" stroke-width="0.6"/>
<rect x="61.70" y="560.10" width="2.50" height="3.56" fill="#000" opacity="0.33"/>
<line x1="62.949999999999996" y1="557.6585574572127" x2="62.949999999999996" y2="562.0531540342298" stroke="#1a1a1a" stroke-width="0.8" opacity="0.8"/>
<line x1="61.949999999999996" y1="557.6585574572127" x2="63.949999999999996" y2="557.6585574572127" stroke="#1a1a1a" stroke-width="0.9"/>
<rect x="65.55" y="579.30" width="2.50" height="55.20" fill="#878787" stroke="#444" stroke-width="0.6"/>
<rect x="65.55" y="579.30" width="2.50" height="3.18" fill="#000" opacity="0.33"/>
<line x1="66.8" y1="577.1402200488997" x2="66.8" y2="581.0278239608801" stroke="#1a1a1a" stroke-width="0.8" opacity="0.8"/>
<line x1="65.8" y1="577.1402200488997" x2="67.8" y2="577.1402200488997" stroke="#1a1a1a" stroke-width="0.9"/>
<text transform="translate(67.65,640.5) rotate(-90)" font-size="7.7" text-anchor="end" fill="#1a1a1a" font-family='"Liberation Sans", sans-serif'>400</text>
<line x1="75.0" y1="634.5" x2="75.0" y2="637.5" stroke="#333" stroke-width="0.9"/>
<rect x="71.85" y="582.80" width="2.50" height="51.70" fill="#c8000c" stroke="#7a0006" stroke-width="0.6"/>
<rect x="71.85" y="582.80" width="2.50" height="3.11" fill="#000" opacity="0.33"/>
<line x1="73.10000000000001" y1="580.691564792176" x2="73.10000000000001" y2="584.4867481662591" stroke="#1a1a1a" stroke-width="0.8" opacity="0.8"/>
<line x1="72.10000000000001" y1="580.691564792176" x2="74.10000000000001" y2="580.691564792176" stroke="#1a1a1a" stroke-width="0.9"/>
<rect x="75.70" y="597.30" width="2.50" height="37.20" fill="#878787" stroke="#444" stroke-width="0.6"/>
<rect x="75.70" y="597.30" width="2.50" height="2.83" fill="#000" opacity="0.33"/>
<line x1="76.95" y1="595.4042787286063" x2="76.95" y2="598.8165770171149" stroke="#1a1a1a" stroke-width="0.8" opacity="0.8"/>
<line x1="75.95" y1="595.4042787286063" x2="77.95" y2="595.4042787286063" stroke="#1a1a1a" stroke-width="0.9"/>
<text transform="translate(77.80,640.5) rotate(-90)" font-size="7.7" text-anchor="end" fill="#1a1a1a" font-family='"Liberation Sans", sans-serif'>500</text>
<line x1="85.15" y1="634.5" x2="85.15" y2="637.5" stroke="#333" stroke-width="0.9"/>
<rect x="82.00" y="595.50" width="2.50" height="39.00" fill="#c8000c" stroke="#7a0006" stroke-width="0.6"/>
<rect x="82.00" y="595.50" width="2.50" height="2.86" fill="#000" opacity="0.33"/>
<line x1="83.25000000000001" y1="593.5778728606357" x2="83.25000000000001" y2="597.0377017114914" stroke="#1a1a1a" stroke-width="0.8" opacity="0.8"/>
<line x1="82.25000000000001" y1="593.5778728606357" x2="84.25000000000001" y2="593.5778728606357" stroke="#1a1a1a" stroke-width="0.9"/>
<rect x="85.85" y="606.10" width="2.50" height="28.40" fill="#878787" stroke="#444" stroke-width="0.6"/>
<rect x="85.85" y="606.10" width="2.50" height="2.66" fill="#000" opacity="0.33"/>
<line x1="87.10000000000001" y1="604.3333740831296" x2="87.10000000000001" y2="607.5133007334964" stroke="#1a1a1a" stroke-width="0.8" opacity="0.8"/>
<line x1="86.10000000000001" y1="604.3333740831296" x2="88.10000000000001" y2="604.3333740831296" stroke="#1a1a1a" stroke-width="0.9"/>
<text transform="translate(87.95,640.5) rotate(-90)" font-size="7.7" text-anchor="end" fill="#1a1a1a" font-family='"Liberation Sans", sans-serif'>600</text>
<line x1="95.30000000000001" y1="634.5" x2="95.30000000000001" y2="637.5" stroke="#333" stroke-width="0.9"/>
<rect x="92.15" y="615.40" width="2.50" height="19.10" fill="#c8000c" stroke="#7a0006" stroke-width="0.6"/>
<rect x="92.15" y="615.40" width="2.50" height="2.47" fill="#000" opacity="0.33"/>
<line x1="93.40000000000002" y1="613.7698044009779" x2="93.40000000000002" y2="616.7041564792175" stroke="#1a1a1a" stroke-width="0.8" opacity="0.8"/>
<line x1="92.40000000000002" y1="613.7698044009779" x2="94.40000000000002" y2="613.7698044009779" stroke="#1a1a1a" stroke-width="0.9"/>
<rect x="96.00" y="619.00" width="2.50" height="15.50" fill="#878787" stroke="#444" stroke-width="0.6"/>
<rect x="96.00" y="619.00" width="2.50" height="2.40" fill="#000" opacity="0.33"/>
<line x1="97.25000000000001" y1="617.4226161369193" x2="97.25000000000001" y2="620.2619070904645" stroke="#1a1a1a" stroke-width="0.8" opacity="0.8"/>
<line x1="96.25000000000001" y1="617.4226161369193" x2="98.25000000000001" y2="617.4226161369193" stroke="#1a1a1a" stroke-width="0.9"/>
<text transform="translate(98.10,640.5) rotate(-90)" font-size="7.7" text-anchor="end" fill="#1a1a1a" font-family='"Liberation Sans", sans-serif'>700</text>
<line x1="105.44999999999999" y1="634.5" x2="105.44999999999999" y2="637.5" stroke="#333" stroke-width="0.9"/>
<rect x="102.30" y="627.30" width="2.50" height="7.20" fill="#c8000c" stroke="#7a0006" stroke-width="0.6"/>
<rect x="102.30" y="627.30" width="2.50" height="2.24" fill="#000" opacity="0.33"/>
<line x1="103.55" y1="625.8443765281173" x2="103.55" y2="628.464498777506" stroke="#1a1a1a" stroke-width="0.8" opacity="0.8"/>
<line x1="102.55" y1="625.8443765281173" x2="104.55" y2="625.8443765281173" stroke="#1a1a1a" stroke-width="0.9"/>
<rect x="106.15" y="626.10" width="2.50" height="8.40" fill="#878787" stroke="#444" stroke-width="0.6"/>
<rect x="106.15" y="626.10" width="2.50" height="2.26" fill="#000" opacity="0.33"/>
<line x1="107.39999999999999" y1="624.6267726161369" x2="107.39999999999999" y2="627.2785819070905" stroke="#1a1a1a" stroke-width="0.8" opacity="0.8"/>
<line x1="106.39999999999999" y1="624.6267726161369" x2="108.39999999999999" y2="624.6267726161369" stroke="#1a1a1a" stroke-width="0.9"/>
<text transform="translate(108.25,640.5) rotate(-90)" font-size="7.7" text-anchor="end" fill="#1a1a1a" font-family='"Liberation Sans", sans-serif'>800</text>
<line x1="115.6" y1="634.5" x2="115.6" y2="637.5" stroke="#333" stroke-width="0.9"/>
<rect x="112.45" y="628.50" width="2.50" height="6.00" fill="#c8000c" stroke="#7a0006" stroke-width="0.6"/>
<rect x="112.45" y="628.50" width="2.50" height="2.22" fill="#000" opacity="0.33"/>
<line x1="113.7" y1="627.0619804400978" x2="113.7" y2="629.6504156479217" stroke="#1a1a1a" stroke-width="0.8" opacity="0.8"/>
<line x1="112.7" y1="627.0619804400978" x2="114.7" y2="627.0619804400978" stroke="#1a1a1a" stroke-width="0.9"/>
<rect x="116.30" y="626.50" width="2.50" height="8.00" fill="#878787" stroke="#444" stroke-width="0.6"/>
<rect x="116.30" y="626.50" width="2.50" height="2.26" fill="#000" opacity="0.33"/>
<line x1="117.55" y1="625.032640586797" x2="117.55" y2="627.6738875305623" stroke="#1a1a1a" stroke-width="0.8" opacity="0.8"/>
<line x1="116.55" y1="625.032640586797" x2="118.55" y2="625.032640586797" stroke="#1a1a1a" stroke-width="0.9"/>
<text transform="translate(118.40,640.5) rotate(-90)" font-size="7.7" text-anchor="end" fill="#1a1a1a" font-family='"Liberation Sans", sans-serif'>900</text>
<line x1="125.75" y1="634.5" x2="125.75" y2="637.5" stroke="#333" stroke-width="0.9"/>
<rect x="122.60" y="629.00" width="2.50" height="5.50" fill="#c8000c" stroke="#7a0006" stroke-width="0.6"/>
<rect x="122.60" y="629.00" width="2.50" height="2.21" fill="#000" opacity="0.33"/>
<line x1="123.85000000000001" y1="627.5693154034229" x2="123.85000000000001" y2="630.1445476772616" stroke="#1a1a1a" stroke-width="0.8" opacity="0.8"/>
<line x1="122.85000000000001" y1="627.5693154034229" x2="124.85000000000001" y2="627.5693154034229" stroke="#1a1a1a" stroke-width="0.9"/>
<rect x="126.45" y="625.60" width="2.50" height="8.90" fill="#878787" stroke="#444" stroke-width="0.6"/>
<rect x="126.45" y="625.60" width="2.50" height="2.27" fill="#000" opacity="0.33"/>
<line x1="127.7" y1="624.1194376528117" x2="127.7" y2="626.7844498777506" stroke="#1a1a1a" stroke-width="0.8" opacity="0.8"/>
<line x1="126.7" y1="624.1194376528117" x2="128.7" y2="624.1194376528117" stroke="#1a1a1a" stroke-width="0.9"/>
<text transform="translate(128.55,640.5) rotate(-90)" font-size="7.7" text-anchor="end" fill="#1a1a1a" font-family='"Liberation Sans", sans-serif'>1000</text>
<line x1="135.9" y1="634.5" x2="135.9" y2="637.5" stroke="#333" stroke-width="0.9"/>
<rect x="132.75" y="627.30" width="2.50" height="7.20" fill="#c8000c" stroke="#7a0006" stroke-width="0.6"/>
<rect x="132.75" y="627.30" width="2.50" height="2.24" fill="#000" opacity="0.33"/>
<line x1="134.0" y1="625.8443765281173" x2="134.0" y2="628.464498777506" stroke="#1a1a1a" stroke-width="0.8" opacity="0.8"/>
<line x1="133.0" y1="625.8443765281173" x2="135.0" y2="625.8443765281173" stroke="#1a1a1a" stroke-width="0.9"/>
<rect x="136.60" y="625.10" width="2.50" height="9.40" fill="#878787" stroke="#444" stroke-width="0.6"/>
<rect x="136.60" y="625.10" width="2.50" height="2.28" fill="#000" opacity="0.33"/>
<line x1="137.85000000000002" y1="623.6121026894866" x2="137.85000000000002" y2="626.2903178484108" stroke="#1a1a1a" stroke-width="0.8" opacity="0.8"/>
<line x1="136.85000000000002" y1="623.6121026894866" x2="138.85000000000002" y2="623.6121026894866" stroke="#1a1a1a" stroke-width="0.9"/>
<text transform="translate(138.70,640.5) rotate(-90)" font-size="7.7" text-anchor="end" fill="#1a1a1a" font-family='"Liberation Sans", sans-serif'>1100</text>
<line x1="146.05" y1="634.5" x2="146.05" y2="637.5" stroke="#333" stroke-width="0.9"/>
<rect x="142.90" y="627.30" width="2.50" height="7.20" fill="#c8000c" stroke="#7a0006" stroke-width="0.6"/>
<rect x="142.90" y="627.30" width="2.50" height="2.24" fill="#000" opacity="0.33"/>
<line x1="144.15" y1="625.8443765281173" x2="144.15" y2="628.464498777506" stroke="#1a1a1a" stroke-width="0.8" opacity="0.8"/>
<line x1="143.15" y1="625.8443765281173" x2="145.15" y2="625.8443765281173" stroke="#1a1a1a" stroke-width="0.9"/>
<rect x="146.75" y="624.00" width="2.50" height="10.50" fill="#878787" stroke="#444" stroke-width="0.6"/>
<rect x="146.75" y="624.00" width="2.50" height="2.31" fill="#000" opacity="0.33"/>
<line x1="148.00000000000003" y1="622.4959657701711" x2="148.00000000000003" y2="625.2032273838631" stroke="#1a1a1a" stroke-width="0.8" opacity="0.8"/>
<line x1="147.00000000000003" y1="622.4959657701711" x2="149.00000000000003" y2="622.4959657701711" stroke="#1a1a1a" stroke-width="0.9"/>
<text transform="translate(148.85,640.5) rotate(-90)" font-size="7.7" text-anchor="end" fill="#1a1a1a" font-family='"Liberation Sans", sans-serif'>1200</text>
<line x1="156.20000000000002" y1="634.5" x2="156.20000000000002" y2="637.5" stroke="#333" stroke-width="0.9"/>
<rect x="153.05" y="624.00" width="2.50" height="10.50" fill="#c8000c" stroke="#7a0006" stroke-width="0.6"/>
<rect x="153.05" y="624.00" width="2.50" height="2.31" fill="#000" opacity="0.33"/>
<line x1="154.3" y1="622.4959657701711" x2="154.3" y2="625.2032273838631" stroke="#1a1a1a" stroke-width="0.8" opacity="0.8"/>
<line x1="153.3" y1="622.4959657701711" x2="155.3" y2="622.4959657701711" stroke="#1a1a1a" stroke-width="0.9"/>
<rect x="156.90" y="620.20" width="2.50" height="14.30" fill="#878787" stroke="#444" stroke-width="0.6"/>
<rect x="156.90" y="620.20" width="2.50" height="2.38" fill="#000" opacity="0.33"/>
<line x1="158.15000000000003" y1="618.6402200488998" x2="158.15000000000003" y2="621.4478239608802" stroke="#1a1a1a" stroke-width="0.8" opacity="0.8"/>
<line x1="157.15000000000003" y1="618.6402200488998" x2="159.15000000000003" y2="618.6402200488998" stroke="#1a1a1a" stroke-width="0.9"/>
<text transform="translate(159.00,640.5) rotate(-90)" font-size="7.7" text-anchor="end" fill="#1a1a1a" font-family='"Liberation Sans", sans-serif'>1300</text>
<line x1="166.35000000000002" y1="634.5" x2="166.35000000000002" y2="637.5" stroke="#333" stroke-width="0.9"/>
<rect x="163.20" y="625.10" width="2.50" height="9.40" fill="#c8000c" stroke="#7a0006" stroke-width="0.6"/>
<rect x="163.20" y="625.10" width="2.50" height="2.28" fill="#000" opacity="0.33"/>
<line x1="164.45000000000002" y1="623.6121026894866" x2="164.45000000000002" y2="626.2903178484108" stroke="#1a1a1a" stroke-width="0.8" opacity="0.8"/>
<line x1="163.45000000000002" y1="623.6121026894866" x2="165.45000000000002" y2="623.6121026894866" stroke="#1a1a1a" stroke-width="0.9"/>
<rect x="167.05" y="621.80" width="2.50" height="12.70" fill="#878787" stroke="#444" stroke-width="0.6"/>
<rect x="167.05" y="621.80" width="2.50" height="2.35" fill="#000" opacity="0.33"/>
<line x1="168.30000000000004" y1="620.2636919315403" x2="168.30000000000004" y2="623.0290464547677" stroke="#1a1a1a" stroke-width="0.8" opacity="0.8"/>
<line x1="167.30000000000004" y1="620.2636919315403" x2="169.30000000000004" y2="620.2636919315403" stroke="#1a1a1a" stroke-width="0.9"/>
<text transform="translate(169.15,640.5) rotate(-90)" font-size="7.7" text-anchor="end" fill="#1a1a1a" font-family='"Liberation Sans", sans-serif'>1400</text>
<line x1="176.5" y1="634.5" x2="176.5" y2="637.5" stroke="#333" stroke-width="0.9"/>
<rect x="173.35" y="630.50" width="2.50" height="4.00" fill="#c8000c" stroke="#7a0006" stroke-width="0.6"/>
<rect x="173.35" y="630.50" width="2.50" height="2.18" fill="#000" opacity="0.33"/>
<line x1="174.6" y1="629.0913202933986" x2="174.6" y2="631.6269437652812" stroke="#1a1a1a" stroke-width="0.8" opacity="0.8"/>
<line x1="173.6" y1="629.0913202933986" x2="175.6" y2="629.0913202933986" stroke="#1a1a1a" stroke-width="0.9"/>
<rect x="177.20" y="627.30" width="2.50" height="7.20" fill="#878787" stroke="#444" stroke-width="0.6"/>
<rect x="177.20" y="627.30" width="2.50" height="2.24" fill="#000" opacity="0.33"/>
<line x1="178.45000000000002" y1="625.8443765281173" x2="178.45000000000002" y2="628.464498777506" stroke="#1a1a1a" stroke-width="0.8" opacity="0.8"/>
<line x1="177.45000000000002" y1="625.8443765281173" x2="179.45000000000002" y2="625.8443765281173" stroke="#1a1a1a" stroke-width="0.9"/>
<text transform="translate(179.30,640.5) rotate(-90)" font-size="7.7" text-anchor="end" fill="#1a1a1a" font-family='"Liberation Sans", sans-serif'>1500</text>
<text x="62.6" y="511.2" font-size="10.5" textLength="78.6" lengthAdjust="spacingAndGlyphs" fill="#2a2a2a">Ethyl butyrate 10</text>
<text x="75.0" y="667.3" font-size="8.2" textLength="47.4" lengthAdjust="spacingAndGlyphs" fill="#2a2a2a">Latency [ms]</text>
<text x="141.4" y="505.0" font-size="5.8" textLength="5.0" lengthAdjust="spacingAndGlyphs" fill="#2a2a2a">-4</text>
<line x1="198.5" y1="510.7" x2="198.5" y2="634.5" stroke="#333" stroke-width="1"/>
<line x1="198.5" y1="634.5" x2="356.3" y2="634.5" stroke="#333" stroke-width="1"/>
<line x1="195.9" y1="634.5" x2="198.5" y2="634.5" stroke="#333" stroke-width="0.9"/>
<line x1="195.9" y1="593.6" x2="198.5" y2="593.6" stroke="#333" stroke-width="0.9"/>
<line x1="195.9" y1="552.7" x2="198.5" y2="552.7" stroke="#333" stroke-width="0.9"/>
<line x1="195.9" y1="511.8" x2="198.5" y2="511.8" stroke="#333" stroke-width="0.9"/>
<line x1="203.4" y1="634.5" x2="203.4" y2="637.5" stroke="#333" stroke-width="0.9"/>
<rect x="200.25" y="618.00" width="2.50" height="16.50" fill="#c8000c" stroke="#7a0006" stroke-width="0.6"/>
<rect x="200.25" y="618.00" width="2.50" height="2.42" fill="#000" opacity="0.33"/>
<line x1="201.5" y1="616.407946210269" x2="201.5" y2="619.2736430317848" stroke="#1a1a1a" stroke-width="0.8" opacity="0.8"/>
<line x1="200.5" y1="616.407946210269" x2="202.5" y2="616.407946210269" stroke="#1a1a1a" stroke-width="0.9"/>
<rect x="204.10" y="618.40" width="2.50" height="16.10" fill="#878787" stroke="#444" stroke-width="0.6"/>
<rect x="204.10" y="618.40" width="2.50" height="2.41" fill="#000" opacity="0.33"/>
<line x1="205.35000000000002" y1="616.8138141809291" x2="205.35000000000002" y2="619.6689486552567" stroke="#1a1a1a" stroke-width="0.8" opacity="0.8"/>
<line x1="204.35000000000002" y1="616.8138141809291" x2="206.35000000000002" y2="616.8138141809291" stroke="#1a1a1a" stroke-width="0.9"/>
<text transform="translate(206.20,640.5) rotate(-90)" font-size="7.7" text-anchor="end" fill="#1a1a1a" font-family='"Liberation Sans", sans-serif'>100</text>
<line x1="214.0" y1="634.5" x2="214.0" y2="637.5" stroke="#333" stroke-width="0.9"/>
<rect x="210.85" y="556.80" width="2.50" height="77.70" fill="#c8000c" stroke="#7a0006" stroke-width="0.6"/>
<rect x="210.85" y="556.80" width="2.50" height="3.62" fill="#000" opacity="0.33"/>
<line x1="212.1" y1="554.3101466992665" x2="212.1" y2="558.7918826405868" stroke="#1a1a1a" stroke-width="0.8" opacity="0.8"/>
<line x1="211.1" y1="554.3101466992665" x2="213.1" y2="554.3101466992665" stroke="#1a1a1a" stroke-width="0.9"/>
<rect x="214.70" y="571.60" width="2.50" height="62.90" fill="#878787" stroke="#444" stroke-width="0.6"/>
<rect x="214.70" y="571.60" width="2.50" height="3.33" fill="#000" opacity="0.33"/>
<line x1="215.95000000000002" y1="569.3272616136919" x2="215.95000000000002" y2="573.4181907090465" stroke="#1a1a1a" stroke-width="0.8" opacity="0.8"/>
<line x1="214.95000000000002" y1="569.3272616136919" x2="216.95000000000002" y2="569.3272616136919" stroke="#1a1a1a" stroke-width="0.9"/>
<text transform="translate(216.80,640.5) rotate(-90)" font-size="7.7" text-anchor="end" fill="#1a1a1a" font-family='"Liberation Sans", sans-serif'>200</text>
<line x1="224.6" y1="634.5" x2="224.6" y2="637.5" stroke="#333" stroke-width="0.9"/>
<rect x="221.45" y="565.20" width="2.50" height="69.30" fill="#c8000c" stroke="#7a0006" stroke-width="0.6"/>
<rect x="221.45" y="565.20" width="2.50" height="3.46" fill="#000" opacity="0.33"/>
<line x1="222.7" y1="562.8333740831297" x2="222.7" y2="567.0933007334963" stroke="#1a1a1a" stroke-width="0.8" opacity="0.8"/>
<line x1="221.7" y1="562.8333740831297" x2="223.7" y2="562.8333740831297" stroke="#1a1a1a" stroke-width="0.9"/>
<rect x="225.30" y="580.90" width="2.50" height="53.60" fill="#878787" stroke="#444" stroke-width="0.6"/>
<rect x="225.30" y="580.90" width="2.50" height="3.15" fill="#000" opacity="0.33"/>
<line x1="226.55" y1="578.7636919315403" x2="226.55" y2="582.6090464547677" stroke="#1a1a1a" stroke-width="0.8" opacity="0.8"/>
<line x1="225.55" y1="578.7636919315403" x2="227.55" y2="578.7636919315403" stroke="#1a1a1a" stroke-width="0.9"/>
<text transform="translate(227.40,640.5) rotate(-90)" font-size="7.7" text-anchor="end" fill="#1a1a1a" font-family='"Liberation Sans", sans-serif'>300</text>
<line x1="235.2" y1="634.5" x2="235.2" y2="637.5" stroke="#333" stroke-width="0.9"/>
<rect x="232.05" y="581.30" width="2.50" height="53.20" fill="#c8000c" stroke="#7a0006" stroke-width="0.6"/>
<rect x="232.05" y="581.30" width="2.50" height="3.14" fill="#000" opacity="0.33"/>
<line x1="233.29999999999998" y1="579.1695599022005" x2="233.29999999999998" y2="583.0043520782395" stroke="#1a1a1a" stroke-width="0.8" opacity="0.8"/>
<line x1="232.29999999999998" y1="579.1695599022005" x2="234.29999999999998" y2="579.1695599022005" stroke="#1a1a1a" stroke-width="0.9"/>
<rect x="235.90" y="595.30" width="2.50" height="39.20" fill="#878787" stroke="#444" stroke-width="0.6"/>
<rect x="235.90" y="595.30" width="2.50" height="2.87" fill="#000" opacity="0.33"/>
<line x1="237.15" y1="593.3749388753056" x2="237.15" y2="596.8400488997554" stroke="#1a1a1a" stroke-width="0.8" opacity="0.8"/>
<line x1="236.15" y1="593.3749388753056" x2="238.15" y2="593.3749388753056" stroke="#1a1a1a" stroke-width="0.9"/>
<text transform="translate(238.00,640.5) rotate(-90)" font-size="7.7" text-anchor="end" fill="#1a1a1a" font-family='"Liberation Sans", sans-serif'>400</text>
<line x1="245.8" y1="634.5" x2="245.8" y2="637.5" stroke="#333" stroke-width="0.9"/>
<rect x="242.65" y="600.20" width="2.50" height="34.30" fill="#c8000c" stroke="#7a0006" stroke-width="0.6"/>
<rect x="242.65" y="600.20" width="2.50" height="2.77" fill="#000" opacity="0.33"/>
<line x1="243.9" y1="598.3468215158924" x2="243.9" y2="601.6825427872861" stroke="#1a1a1a" stroke-width="0.8" opacity="0.8"/>
<line x1="242.9" y1="598.3468215158924" x2="244.9" y2="598.3468215158924" stroke="#1a1a1a" stroke-width="0.9"/>
<rect x="246.50" y="607.00" width="2.50" height="27.50" fill="#878787" stroke="#444" stroke-width="0.6"/>
<rect x="246.50" y="607.00" width="2.50" height="2.64" fill="#000" opacity="0.33"/>
<line x1="247.75000000000003" y1="605.2465770171149" x2="247.75000000000003" y2="608.4027383863081" stroke="#1a1a1a" stroke-width="0.8" opacity="0.8"/>
<line x1="246.75000000000003" y1="605.2465770171149" x2="248.75000000000003" y2="605.2465770171149" stroke="#1a1a1a" stroke-width="0.9"/>
<text transform="translate(248.60,640.5) rotate(-90)" font-size="7.7" text-anchor="end" fill="#1a1a1a" font-family='"Liberation Sans", sans-serif'>500</text>
<line x1="256.4" y1="634.5" x2="256.4" y2="637.5" stroke="#333" stroke-width="0.9"/>
<rect x="253.25" y="609.30" width="2.50" height="25.20" fill="#c8000c" stroke="#7a0006" stroke-width="0.6"/>
<rect x="253.25" y="609.30" width="2.50" height="2.59" fill="#000" opacity="0.33"/>
<line x1="254.49999999999997" y1="607.5803178484107" x2="254.49999999999997" y2="610.6757457212714" stroke="#1a1a1a" stroke-width="0.8" opacity="0.8"/>
<line x1="253.49999999999997" y1="607.5803178484107" x2="255.49999999999997" y2="607.5803178484107" stroke="#1a1a1a" stroke-width="0.9"/>
<rect x="257.10" y="612.80" width="2.50" height="21.70" fill="#878787" stroke="#444" stroke-width="0.6"/>
<rect x="257.10" y="612.80" width="2.50" height="2.52" fill="#000" opacity="0.33"/>
<line x1="258.34999999999997" y1="611.131662591687" x2="258.34999999999997" y2="614.1346699266503" stroke="#1a1a1a" stroke-width="0.8" opacity="0.8"/>
<line x1="257.34999999999997" y1="611.131662591687" x2="259.34999999999997" y2="611.131662591687" stroke="#1a1a1a" stroke-width="0.9"/>
<text transform="translate(259.20,640.5) rotate(-90)" font-size="7.7" text-anchor="end" fill="#1a1a1a" font-family='"Liberation Sans", sans-serif'>600</text>
<line x1="267.0" y1="634.5" x2="267.0" y2="637.5" stroke="#333" stroke-width="0.9"/>
<rect x="263.85" y="620.70" width="2.50" height="13.80" fill="#c8000c" stroke="#7a0006" stroke-width="0.6"/>
<rect x="263.85" y="620.70" width="2.50" height="2.37" fill="#000" opacity="0.33"/>
<line x1="265.09999999999997" y1="619.147555012225" x2="265.09999999999997" y2="621.9419559902201" stroke="#1a1a1a" stroke-width="0.8" opacity="0.8"/>
<line x1="264.09999999999997" y1="619.147555012225" x2="266.09999999999997" y2="619.147555012225" stroke="#1a1a1a" stroke-width="0.9"/>
<rect x="267.70" y="621.00" width="2.50" height="13.50" fill="#878787" stroke="#444" stroke-width="0.6"/>
<rect x="267.70" y="621.00" width="2.50" height="2.36" fill="#000" opacity="0.33"/>
<line x1="268.95" y1="619.4519559902201" x2="268.95" y2="622.238435207824" stroke="#1a1a1a" stroke-width="0.8" opacity="0.8"/>
<line x1="267.95" y1="619.4519559902201" x2="269.95" y2="619.4519559902201" stroke="#1a1a1a" stroke-width="0.9"/>
<text transform="translate(269.80,640.5) rotate(-90)" font-size="7.7" text-anchor="end" fill="#1a1a1a" font-family='"Liberation Sans", sans-serif'>700</text>
<line x1="277.6" y1="634.5" x2="277.6" y2="637.5" stroke="#333" stroke-width="0.9"/>
<rect x="274.45" y="628.00" width="2.50" height="6.50" fill="#c8000c" stroke="#7a0006" stroke-width="0.6"/>
<rect x="274.45" y="628.00" width="2.50" height="2.23" fill="#000" opacity="0.33"/>
<line x1="275.7" y1="626.5546454767726" x2="275.7" y2="629.1562836185819" stroke="#1a1a1a" stroke-width="0.8" opacity="0.8"/>
<line x1="274.7" y1="626.5546454767726" x2="276.7" y2="626.5546454767726" stroke="#1a1a1a" stroke-width="0.9"/>
<rect x="278.30" y="625.70" width="2.50" height="8.80" fill="#878787" stroke="#444" stroke-width="0.6"/>
<rect x="278.30" y="625.70" width="2.50" height="2.27" fill="#000" opacity="0.33"/>
<line x1="279.55" y1="624.2209046454768" x2="279.55" y2="626.8832762836187" stroke="#1a1a1a" stroke-width="0.8" opacity="0.8"/>
<line x1="278.55" y1="624.2209046454768" x2="280.55" y2="624.2209046454768" stroke="#1a1a1a" stroke-width="0.9"/>
<text transform="translate(280.40,640.5) rotate(-90)" font-size="7.7" text-anchor="end" fill="#1a1a1a" font-family='"Liberation Sans", sans-serif'>800</text>
<line x1="288.2" y1="634.5" x2="288.2" y2="637.5" stroke="#333" stroke-width="0.9"/>
<rect x="285.05" y="625.70" width="2.50" height="8.80" fill="#c8000c" stroke="#7a0006" stroke-width="0.6"/>
<rect x="285.05" y="625.70" width="2.50" height="2.27" fill="#000" opacity="0.33"/>
<line x1="286.29999999999995" y1="624.2209046454768" x2="286.29999999999995" y2="626.8832762836187" stroke="#1a1a1a" stroke-width="0.8" opacity="0.8"/>
<line x1="285.29999999999995" y1="624.2209046454768" x2="287.29999999999995" y2="624.2209046454768" stroke="#1a1a1a" stroke-width="0.9"/>
<rect x="288.90" y="626.30" width="2.50" height="8.20" fill="#878787" stroke="#444" stroke-width="0.6"/>
<rect x="288.90" y="626.30" width="2.50" height="2.26" fill="#000" opacity="0.33"/>
<line x1="290.15" y1="624.8297066014669" x2="290.15" y2="627.4762347188264" stroke="#1a1a1a" stroke-width="0.8" opacity="0.8"/>
<line x1="289.15" y1="624.8297066014669" x2="291.15" y2="624.8297066014669" stroke="#1a1a1a" stroke-width="0.9"/>
<text transform="translate(291.00,640.5) rotate(-90)" font-size="7.7" text-anchor="end" fill="#1a1a1a" font-family='"Liberation Sans", sans-serif'>900</text>
<line x1="298.8" y1="634.5" x2="298.8" y2="637.5" stroke="#333" stroke-width="0.9"/>
<rect x="295.65" y="628.40" width="2.50" height="6.10" fill="#c8000c" stroke="#7a0006" stroke-width="0.6"/>
<rect x="295.65" y="628.40" width="2.50" height="2.22" fill="#000" opacity="0.33"/>
<line x1="296.9" y1="626.9605134474327" x2="296.9" y2="629.5515892420538" stroke="#1a1a1a" stroke-width="0.8" opacity="0.8"/>
<line x1="295.9" y1="626.9605134474327" x2="297.9" y2="626.9605134474327" stroke="#1a1a1a" stroke-width="0.9"/>
<rect x="299.50" y="625.90" width="2.50" height="8.60" fill="#878787" stroke="#444" stroke-width="0.6"/>
<rect x="299.50" y="625.90" width="2.50" height="2.27" fill="#000" opacity="0.33"/>
<line x1="300.75" y1="624.4238386308068" x2="300.75" y2="627.0809290953545" stroke="#1a1a1a" stroke-width="0.8" opacity="0.8"/>
<line x1="299.75" y1="624.4238386308068" x2="301.75" y2="624.4238386308068" stroke="#1a1a1a" stroke-width="0.9"/>
<text transform="translate(301.60,640.5) rotate(-90)" font-size="7.7" text-anchor="end" fill="#1a1a1a" font-family='"Liberation Sans", sans-serif'>1000</text>
<line x1="309.4" y1="634.5" x2="309.4" y2="637.5" stroke="#333" stroke-width="0.9"/>
<rect x="306.25" y="626.90" width="2.50" height="7.60" fill="#c8000c" stroke="#7a0006" stroke-width="0.6"/>
<rect x="306.25" y="626.90" width="2.50" height="2.25" fill="#000" opacity="0.33"/>
<line x1="307.49999999999994" y1="625.4385085574572" x2="307.49999999999994" y2="628.0691931540342" stroke="#1a1a1a" stroke-width="0.8" opacity="0.8"/>
<line x1="306.49999999999994" y1="625.4385085574572" x2="308.49999999999994" y2="625.4385085574572" stroke="#1a1a1a" stroke-width="0.9"/>
<rect x="310.10" y="623.60" width="2.50" height="10.90" fill="#878787" stroke="#444" stroke-width="0.6"/>
<rect x="310.10" y="623.60" width="2.50" height="2.31" fill="#000" opacity="0.33"/>
<line x1="311.34999999999997" y1="622.090097799511" x2="311.34999999999997" y2="624.8079217603912" stroke="#1a1a1a" stroke-width="0.8" opacity="0.8"/>
<line x1="310.34999999999997" y1="622.090097799511" x2="312.34999999999997" y2="622.090097799511" stroke="#1a1a1a" stroke-width="0.9"/>
<text transform="translate(312.20,640.5) rotate(-90)" font-size="7.7" text-anchor="end" fill="#1a1a1a" font-family='"Liberation Sans", sans-serif'>1100</text>
<line x1="320.0" y1="634.5" x2="320.0" y2="637.5" stroke="#333" stroke-width="0.9"/>
<rect x="316.85" y="626.90" width="2.50" height="7.60" fill="#c8000c" stroke="#7a0006" stroke-width="0.6"/>
<rect x="316.85" y="626.90" width="2.50" height="2.25" fill="#000" opacity="0.33"/>
<line x1="318.09999999999997" y1="625.4385085574572" x2="318.09999999999997" y2="628.0691931540342" stroke="#1a1a1a" stroke-width="0.8" opacity="0.8"/>
<line x1="317.09999999999997" y1="625.4385085574572" x2="319.09999999999997" y2="625.4385085574572" stroke="#1a1a1a" stroke-width="0.9"/>
<rect x="320.70" y="626.90" width="2.50" height="7.60" fill="#878787" stroke="#444" stroke-width="0.6"/>
<rect x="320.70" y="626.90" width="2.50" height="2.25" fill="#000" opacity="0.33"/>
<line x1="321.95" y1="625.4385085574572" x2="321.95" y2="628.0691931540342" stroke="#1a1a1a" stroke-width="0.8" opacity="0.8"/>
<line x1="320.95" y1="625.4385085574572" x2="322.95" y2="625.4385085574572" stroke="#1a1a1a" stroke-width="0.9"/>
<text transform="translate(322.80,640.5) rotate(-90)" font-size="7.7" text-anchor="end" fill="#1a1a1a" font-family='"Liberation Sans", sans-serif'>1200</text>
<line x1="330.6" y1="634.5" x2="330.6" y2="637.5" stroke="#333" stroke-width="0.9"/>
<rect x="327.45" y="626.90" width="2.50" height="7.60" fill="#c8000c" stroke="#7a0006" stroke-width="0.6"/>
<rect x="327.45" y="626.90" width="2.50" height="2.25" fill="#000" opacity="0.33"/>
<line x1="328.7" y1="625.4385085574572" x2="328.7" y2="628.0691931540342" stroke="#1a1a1a" stroke-width="0.8" opacity="0.8"/>
<line x1="327.7" y1="625.4385085574572" x2="329.7" y2="625.4385085574572" stroke="#1a1a1a" stroke-width="0.9"/>
<rect x="331.30" y="623.20" width="2.50" height="11.30" fill="#878787" stroke="#444" stroke-width="0.6"/>
<rect x="331.30" y="623.20" width="2.50" height="2.32" fill="#000" opacity="0.33"/>
<line x1="332.55" y1="621.6842298288509" x2="332.55" y2="624.4126161369194" stroke="#1a1a1a" stroke-width="0.8" opacity="0.8"/>
<line x1="331.55" y1="621.6842298288509" x2="333.55" y2="621.6842298288509" stroke="#1a1a1a" stroke-width="0.9"/>
<text transform="translate(333.40,640.5) rotate(-90)" font-size="7.7" text-anchor="end" fill="#1a1a1a" font-family='"Liberation Sans", sans-serif'>1300</text>
<line x1="341.2" y1="634.5" x2="341.2" y2="637.5" stroke="#333" stroke-width="0.9"/>
<rect x="338.05" y="623.80" width="2.50" height="10.70" fill="#c8000c" stroke="#7a0006" stroke-width="0.6"/>
<rect x="338.05" y="623.80" width="2.50" height="2.31" fill="#000" opacity="0.33"/>
<line x1="339.29999999999995" y1="622.293031784841" x2="339.29999999999995" y2="625.0055745721271" stroke="#1a1a1a" stroke-width="0.8" opacity="0.8"/>
<line x1="338.29999999999995" y1="622.293031784841" x2="340.29999999999995" y2="622.293031784841" stroke="#1a1a1a" stroke-width="0.9"/>
<rect x="341.90" y="621.50" width="2.50" height="13.00" fill="#878787" stroke="#444" stroke-width="0.6"/>
<rect x="341.90" y="621.50" width="2.50" height="2.35" fill="#000" opacity="0.33"/>
<line x1="343.15" y1="619.9592909535452" x2="343.15" y2="622.7325672371638" stroke="#1a1a1a" stroke-width="0.8" opacity="0.8"/>
<line x1="342.15" y1="619.9592909535452" x2="344.15" y2="619.9592909535452" stroke="#1a1a1a" stroke-width="0.9"/>
<text transform="translate(344.00,640.5) rotate(-90)" font-size="7.7" text-anchor="end" fill="#1a1a1a" font-family='"Liberation Sans", sans-serif'>1400</text>
<line x1="351.8" y1="634.5" x2="351.8" y2="637.5" stroke="#333" stroke-width="0.9"/>
<rect x="348.65" y="630.90" width="2.50" height="3.60" fill="#c8000c" stroke="#7a0006" stroke-width="0.6"/>
<rect x="348.65" y="630.90" width="2.50" height="2.17" fill="#000" opacity="0.33"/>
<line x1="349.9" y1="629.4971882640587" x2="349.9" y2="632.022249388753" stroke="#1a1a1a" stroke-width="0.8" opacity="0.8"/>
<line x1="348.9" y1="629.4971882640587" x2="350.9" y2="629.4971882640587" stroke="#1a1a1a" stroke-width="0.9"/>
<rect x="352.50" y="632.50" width="2.50" height="2.00" fill="#878787" stroke="#444" stroke-width="0.6"/>
<rect x="352.50" y="632.50" width="2.50" height="2.00" fill="#000" opacity="0.33"/>
<line x1="353.75" y1="631.1206601466993" x2="353.75" y2="633.6034718826406" stroke="#1a1a1a" stroke-width="0.8" opacity="0.8"/>
<line x1="352.75" y1="631.1206601466993" x2="354.75" y2="631.1206601466993" stroke="#1a1a1a" stroke-width="0.9"/>
<text transform="translate(354.60,640.5) rotate(-90)" font-size="7.7" text-anchor="end" fill="#1a1a1a" font-family='"Liberation Sans", sans-serif'>1500</text>
<text x="227.2" y="511.2" font-size="10.5" textLength="90.3" lengthAdjust="spacingAndGlyphs" fill="#2a2a2a">Ethyl propionate 10</text>
<text x="244.5" y="667.3" font-size="8.2" textLength="48.8" lengthAdjust="spacingAndGlyphs" fill="#2a2a2a">Latency [ms]</text>
<text x="317.9" y="505.3" font-size="5.8" textLength="5.6" lengthAdjust="spacingAndGlyphs" fill="#2a2a2a">-6</text>
<path d="M43.90,512.60L47.90,512.60M44.90,510.87L46.90,514.33M44.90,514.33L46.90,510.87" stroke="#3a3a3a" stroke-width="1.0" fill="none"/>
<path d="M43.90,517.80L47.90,517.80M44.90,516.07L46.90,519.53M44.90,519.53L46.90,516.07" stroke="#3a3a3a" stroke-width="1.0" fill="none"/>
<path d="M43.90,523.00L47.90,523.00M44.90,521.27L46.90,524.73M44.90,524.73L46.90,521.27" stroke="#3a3a3a" stroke-width="1.0" fill="none"/>
<path d="M54.80,519.40L58.80,519.40M55.80,517.67L57.80,521.13M55.80,521.13L57.80,517.67" stroke="#3a3a3a" stroke-width="1.0" fill="none"/>
<path d="M54.80,524.60L58.80,524.60M55.80,522.87L57.80,526.33M55.80,526.33L57.80,522.87" stroke="#3a3a3a" stroke-width="1.0" fill="none"/>
<path d="M54.80,529.80L58.80,529.80M55.80,528.07L57.80,531.53M55.80,531.53L57.80,528.07" stroke="#3a3a3a" stroke-width="1.0" fill="none"/>
<path d="M64.80,534.30L68.80,534.30M65.80,532.57L67.80,536.03M65.80,536.03L67.80,532.57" stroke="#3a3a3a" stroke-width="1.0" fill="none"/>
<path d="M64.80,539.50L68.80,539.50M65.80,537.77L67.80,541.23M65.80,541.23L67.80,537.77" stroke="#3a3a3a" stroke-width="1.0" fill="none"/>
<path d="M64.80,544.70L68.80,544.70M65.80,542.97L67.80,546.43M65.80,546.43L67.80,542.97" stroke="#3a3a3a" stroke-width="1.0" fill="none"/>
<path d="M75.00,563.30L79.00,563.30M76.00,561.57L78.00,565.03M76.00,565.03L78.00,561.57" stroke="#3a3a3a" stroke-width="1.0" fill="none"/>
<path d="M75.00,568.10L79.00,568.10M76.00,566.37L78.00,569.83M76.00,569.83L78.00,566.37" stroke="#3a3a3a" stroke-width="1.0" fill="none"/>
<path d="M85.00,583.40L89.00,583.40M86.00,581.67L88.00,585.13M86.00,585.13L88.00,581.67" stroke="#3a3a3a" stroke-width="1.0" fill="none"/>
<path d="M214.00,531.80L218.00,531.80M215.00,530.07L217.00,533.53M215.00,533.53L217.00,530.07" stroke="#3a3a3a" stroke-width="1.0" fill="none"/>
<path d="M214.00,537.00L218.00,537.00M215.00,535.27L217.00,538.73M215.00,538.73L217.00,535.27" stroke="#3a3a3a" stroke-width="1.0" fill="none"/>
<path d="M214.00,542.20L218.00,542.20M215.00,540.47L217.00,543.93M215.00,543.93L217.00,540.47" stroke="#3a3a3a" stroke-width="1.0" fill="none"/>
<path d="M225.00,540.20L229.00,540.20M226.00,538.47L228.00,541.93M226.00,541.93L228.00,538.47" stroke="#3a3a3a" stroke-width="1.0" fill="none"/>
<path d="M225.00,545.40L229.00,545.40M226.00,543.67L228.00,547.13M226.00,547.13L228.00,543.67" stroke="#3a3a3a" stroke-width="1.0" fill="none"/>
<path d="M225.00,550.60L229.00,550.60M226.00,548.87L228.00,552.33M226.00,552.33L228.00,548.87" stroke="#3a3a3a" stroke-width="1.0" fill="none"/>
<path d="M235.50,556.60L239.50,556.60M236.50,554.87L238.50,558.33M236.50,558.33L238.50,554.87" stroke="#3a3a3a" stroke-width="1.0" fill="none"/>
<path d="M235.50,561.80L239.50,561.80M236.50,560.07L238.50,563.53M236.50,563.53L238.50,560.07" stroke="#3a3a3a" stroke-width="1.0" fill="none"/>
<path d="M235.50,567.00L239.50,567.00M236.50,565.27L238.50,568.73M236.50,568.73L238.50,565.27" stroke="#3a3a3a" stroke-width="1.0" fill="none"/>
<text transform="translate(13.2,612.3) rotate(-90)" font-size="8.4" fill="#2a2a2a" textLength="64.8" lengthAdjust="spacingAndGlyphs" font-family='"Liberation Sans", sans-serif'>Number of spikes</text>
<text transform="translate(8.4,435.2) rotate(-90)" font-size="8.4" fill="#2a2a2a" textLength="92.6" lengthAdjust="spacingAndGlyphs" font-family='"Liberation Sans", sans-serif'>ORN response in spikes s</text>
<text transform="translate(4.4,342.2) rotate(-90)" font-size="5.2" fill="#2a2a2a" textLength="5.0" lengthAdjust="spacingAndGlyphs" font-family='"Liberation Sans", sans-serif'>-1</text>
<rect x="29.00" y="671.00" width="47.30" height="2.40" fill="#f2bd2c"/>
<rect x="198.70" y="671.00" width="47.00" height="2.40" fill="#f2bd2c"/>
<text x="33.9" y="683.4" font-size="10" textLength="40.4" lengthAdjust="spacingAndGlyphs" fill="#f0ae5e">Stimulus</text>
</svg>
</body></html>
